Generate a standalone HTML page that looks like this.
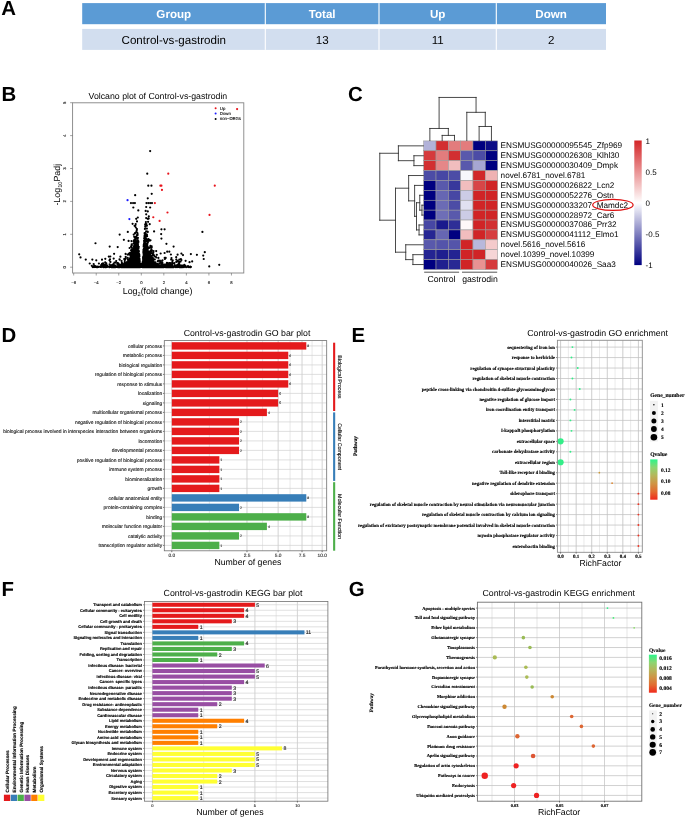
<!DOCTYPE html>
<html lang="en"><head><meta charset="utf-8"><title>Control-vs-gastrodin figure</title>
<style>html,body{margin:0;padding:0;background:#fff;}svg{display:block;}text{white-space:pre;text-rendering:geometricPrecision;}</style></head>
<body><svg width="685" height="819" viewBox="0 0 685 819">
<rect width="685" height="819" fill="#fff"/>
<text x="1.30" y="15.30" font-size="20.4" text-anchor="start" font-weight="bold" fill="#000" font-family="Liberation Sans, sans-serif">A</text>
<text x="1.60" y="101.10" font-size="20.4" text-anchor="start" font-weight="bold" fill="#000" font-family="Liberation Sans, sans-serif">B</text>
<text x="348.00" y="101.30" font-size="20.4" text-anchor="start" font-weight="bold" fill="#000" font-family="Liberation Sans, sans-serif">C</text>
<text x="1.60" y="341.70" font-size="20.4" text-anchor="start" font-weight="bold" fill="#000" font-family="Liberation Sans, sans-serif">D</text>
<text x="351.60" y="341.70" font-size="20.4" text-anchor="start" font-weight="bold" fill="#000" font-family="Liberation Sans, sans-serif">E</text>
<text x="1.40" y="596.00" font-size="20.4" text-anchor="start" font-weight="bold" fill="#000" font-family="Liberation Sans, sans-serif">F</text>
<text x="348.80" y="595.80" font-size="20.4" text-anchor="start" font-weight="bold" fill="#000" font-family="Liberation Sans, sans-serif">G</text>
<rect x="82.20" y="3.10" width="523.80" height="21.10" fill="#5B9BD5"/>
<rect x="82.20" y="28.90" width="523.80" height="21.00" fill="#D2DEEF"/>
<rect x="264.75" y="3.10" width="1.10" height="46.80" fill="#fff"/>
<rect x="378.45" y="3.10" width="1.10" height="46.80" fill="#fff"/>
<rect x="495.75" y="3.10" width="1.10" height="46.80" fill="#fff"/>
<text x="173.75" y="18.20" font-size="11.6" text-anchor="middle" font-weight="bold" fill="#fff" font-family="Liberation Sans, sans-serif">Group</text>
<text x="173.75" y="43.90" font-size="11.6" text-anchor="middle" fill="#000" font-family="Liberation Sans, sans-serif">Control-vs-gastrodin</text>
<text x="322.15" y="18.20" font-size="11.6" text-anchor="middle" font-weight="bold" fill="#fff" font-family="Liberation Sans, sans-serif">Total</text>
<text x="322.15" y="43.90" font-size="11.6" text-anchor="middle" fill="#000" font-family="Liberation Sans, sans-serif">13</text>
<text x="437.65" y="18.20" font-size="11.6" text-anchor="middle" font-weight="bold" fill="#fff" font-family="Liberation Sans, sans-serif">Up</text>
<text x="437.65" y="43.90" font-size="11.6" text-anchor="middle" fill="#000" font-family="Liberation Sans, sans-serif">11</text>
<text x="551.15" y="18.20" font-size="11.6" text-anchor="middle" font-weight="bold" fill="#fff" font-family="Liberation Sans, sans-serif">Down</text>
<text x="551.15" y="43.90" font-size="11.6" text-anchor="middle" fill="#000" font-family="Liberation Sans, sans-serif">2</text>
<text x="157.90" y="98.90" font-size="8.75" text-anchor="middle" fill="#000" font-family="Liberation Sans, sans-serif">Volcano plot of Control-vs-gastrodin</text>
<rect x="72.60" y="102.80" width="171.20" height="170.20" fill="none" stroke="#848484" stroke-width="0.9"/>
<line x1="73.68" y1="273.00" x2="73.68" y2="275.50" stroke="#666" stroke-width="0.6"/>
<text x="73.68" y="283.50" font-size="4.2" text-anchor="middle" stroke="#222" stroke-width="0.13" fill="#222" font-family="Liberation Sans, sans-serif">−6</text>
<line x1="96.22" y1="273.00" x2="96.22" y2="275.50" stroke="#666" stroke-width="0.6"/>
<text x="96.22" y="283.50" font-size="4.2" text-anchor="middle" stroke="#222" stroke-width="0.13" fill="#222" font-family="Liberation Sans, sans-serif">−4</text>
<line x1="118.76" y1="273.00" x2="118.76" y2="275.50" stroke="#666" stroke-width="0.6"/>
<text x="118.76" y="283.50" font-size="4.2" text-anchor="middle" stroke="#222" stroke-width="0.13" fill="#222" font-family="Liberation Sans, sans-serif">−2</text>
<line x1="141.30" y1="273.00" x2="141.30" y2="275.50" stroke="#666" stroke-width="0.6"/>
<text x="141.30" y="283.50" font-size="4.2" text-anchor="middle" stroke="#222" stroke-width="0.13" fill="#222" font-family="Liberation Sans, sans-serif">0</text>
<line x1="163.84" y1="273.00" x2="163.84" y2="275.50" stroke="#666" stroke-width="0.6"/>
<text x="163.84" y="283.50" font-size="4.2" text-anchor="middle" stroke="#222" stroke-width="0.13" fill="#222" font-family="Liberation Sans, sans-serif">2</text>
<line x1="186.38" y1="273.00" x2="186.38" y2="275.50" stroke="#666" stroke-width="0.6"/>
<text x="186.38" y="283.50" font-size="4.2" text-anchor="middle" stroke="#222" stroke-width="0.13" fill="#222" font-family="Liberation Sans, sans-serif">4</text>
<line x1="208.92" y1="273.00" x2="208.92" y2="275.50" stroke="#666" stroke-width="0.6"/>
<text x="208.92" y="283.50" font-size="4.2" text-anchor="middle" stroke="#222" stroke-width="0.13" fill="#222" font-family="Liberation Sans, sans-serif">6</text>
<line x1="231.46" y1="273.00" x2="231.46" y2="275.50" stroke="#666" stroke-width="0.6"/>
<text x="231.46" y="283.50" font-size="4.2" text-anchor="middle" stroke="#222" stroke-width="0.13" fill="#222" font-family="Liberation Sans, sans-serif">8</text>
<line x1="70.10" y1="267.20" x2="72.60" y2="267.20" stroke="#666" stroke-width="0.6"/>
<text x="66.40" y="267.20" font-size="4.2" text-anchor="middle" stroke="#222" stroke-width="0.13" fill="#222" font-family="Liberation Sans, sans-serif" transform="rotate(-90 66.40 267.20)">0</text>
<line x1="70.10" y1="234.30" x2="72.60" y2="234.30" stroke="#666" stroke-width="0.6"/>
<text x="66.40" y="234.30" font-size="4.2" text-anchor="middle" stroke="#222" stroke-width="0.13" fill="#222" font-family="Liberation Sans, sans-serif" transform="rotate(-90 66.40 234.30)">1</text>
<line x1="70.10" y1="201.40" x2="72.60" y2="201.40" stroke="#666" stroke-width="0.6"/>
<text x="66.40" y="201.40" font-size="4.2" text-anchor="middle" stroke="#222" stroke-width="0.13" fill="#222" font-family="Liberation Sans, sans-serif" transform="rotate(-90 66.40 201.40)">2</text>
<line x1="70.10" y1="168.50" x2="72.60" y2="168.50" stroke="#666" stroke-width="0.6"/>
<text x="66.40" y="168.50" font-size="4.2" text-anchor="middle" stroke="#222" stroke-width="0.13" fill="#222" font-family="Liberation Sans, sans-serif" transform="rotate(-90 66.40 168.50)">3</text>
<line x1="70.10" y1="135.60" x2="72.60" y2="135.60" stroke="#666" stroke-width="0.6"/>
<text x="66.40" y="135.60" font-size="4.2" text-anchor="middle" stroke="#222" stroke-width="0.13" fill="#222" font-family="Liberation Sans, sans-serif" transform="rotate(-90 66.40 135.60)">4</text>
<line x1="70.10" y1="102.70" x2="72.60" y2="102.70" stroke="#666" stroke-width="0.6"/>
<text x="66.40" y="102.70" font-size="4.2" text-anchor="middle" stroke="#222" stroke-width="0.13" fill="#222" font-family="Liberation Sans, sans-serif" transform="rotate(-90 66.40 102.70)">5</text>
<text x="157.6" y="293.8" font-size="8.9" text-anchor="middle" font-family="Liberation Sans, sans-serif">Log<tspan font-size="5.6" dy="1.8">2</tspan><tspan dy="-1.8">(fold change)</tspan></text>
<text x="59.8" y="184.7" font-size="8.9" text-anchor="middle" font-family="Liberation Sans, sans-serif" transform="rotate(-90 59.8 184.7)">-Log<tspan font-size="5.6" dy="1.8">10</tspan><tspan dy="-1.8">Padj</tspan></text>
<path d="M138.3 266.5h0M147.4 267.2h0M130.3 267.2h0M138.8 266.7h0M153.6 267.2h0M144.2 267.1h0M121.6 267.1h0M151.4 267.0h0M121.3 266.6h0M120.7 266.9h0M144.9 265.9h0M145.0 267.0h0M146.0 266.1h0M147.9 266.5h0M155.5 266.9h0M137.2 267.2h0M140.0 267.0h0M136.0 267.0h0M130.0 266.6h0M131.7 266.2h0M144.2 266.4h0M156.8 265.8h0M131.6 267.1h0M124.0 267.1h0M151.1 266.8h0M158.3 266.2h0M145.6 266.6h0M148.6 266.4h0M134.1 266.6h0M129.8 266.0h0M135.0 265.3h0M124.1 267.2h0M144.1 266.4h0M118.8 266.1h0M111.5 267.0h0M128.0 267.2h0M152.9 266.8h0M144.2 267.2h0M146.4 266.2h0M147.4 266.9h0M147.8 265.9h0M152.6 266.7h0M147.6 265.8h0M151.3 267.0h0M119.9 266.8h0M125.8 265.1h0M160.4 267.1h0M145.1 267.0h0M149.0 266.8h0M133.5 267.2h0M136.4 266.8h0M130.9 265.2h0M152.5 266.4h0M125.0 266.5h0M139.7 267.2h0M157.9 265.8h0M129.1 266.1h0M132.0 267.1h0M148.8 266.5h0M145.4 267.0h0M143.0 267.1h0M139.2 267.2h0M144.6 267.1h0M150.3 267.2h0M148.0 265.8h0M136.2 267.0h0M136.9 266.9h0M137.3 266.0h0M145.9 263.9h0M128.0 267.1h0M144.2 267.1h0M136.2 266.0h0M149.1 267.1h0M170.1 266.7h0M145.5 267.1h0M138.6 266.7h0M153.2 267.0h0M127.5 266.9h0M151.4 266.7h0M158.9 266.2h0M137.3 266.1h0M148.7 264.4h0M154.2 266.1h0M124.2 266.3h0M143.4 266.9h0M155.4 267.2h0M150.7 267.0h0M143.0 266.4h0M153.7 265.4h0M137.8 264.3h0M152.1 267.0h0M138.2 267.0h0M143.9 266.6h0M148.9 265.7h0M148.6 266.5h0M129.9 266.1h0M156.3 265.6h0M150.1 266.2h0M127.8 266.2h0M130.8 264.9h0M159.8 266.9h0M118.0 266.4h0M157.9 267.1h0M146.0 265.7h0M146.2 266.1h0M154.7 264.6h0M158.9 266.5h0M132.5 267.1h0M153.4 267.2h0M158.2 266.7h0M138.2 265.4h0M119.4 266.0h0M151.0 267.0h0M151.2 266.6h0M153.6 265.6h0M133.4 266.6h0M151.7 265.7h0M118.1 266.7h0M153.9 266.7h0M139.0 266.8h0M162.5 267.1h0M139.0 266.9h0M126.4 266.7h0M121.8 267.1h0M134.2 266.7h0M150.8 266.7h0M122.8 265.6h0M133.7 266.8h0M130.6 266.7h0M132.2 266.4h0M127.3 266.8h0M145.6 265.3h0M133.7 265.3h0M118.3 267.0h0M114.9 266.0h0M130.9 267.1h0M150.5 267.2h0M150.1 267.0h0M157.1 266.2h0M149.1 265.7h0M151.9 266.5h0M156.8 267.1h0M164.3 267.0h0M120.5 265.2h0M130.3 264.2h0M149.5 266.0h0M147.9 266.7h0M152.0 266.9h0M144.8 266.4h0M151.1 267.2h0M129.3 267.2h0M137.1 266.9h0M131.2 267.2h0M131.3 264.4h0M148.8 267.1h0M110.6 267.0h0M161.2 267.0h0M146.4 267.1h0M118.3 266.1h0M153.5 267.0h0M157.0 266.6h0M162.7 266.4h0M144.7 266.4h0M143.5 266.8h0M166.4 266.5h0M153.6 266.1h0M161.5 267.2h0M153.0 265.9h0M131.0 266.7h0M144.4 265.5h0M147.5 267.0h0M146.7 267.2h0M145.8 267.1h0M137.5 266.3h0M150.6 267.0h0M133.9 266.9h0M143.4 266.7h0M146.3 265.4h0M153.8 267.1h0M146.6 266.8h0M129.9 266.0h0M130.3 266.4h0M150.1 264.5h0M129.0 266.4h0M160.0 266.5h0M132.3 267.2h0M147.5 267.1h0M158.9 267.0h0M149.7 267.1h0M160.9 265.9h0M152.8 266.5h0M139.5 267.0h0M149.9 266.8h0M148.4 267.0h0M152.0 265.1h0M156.0 267.0h0M138.8 265.0h0M137.2 267.2h0M151.6 266.9h0M127.5 267.1h0M143.5 266.7h0M150.6 267.1h0M143.7 267.0h0M128.8 266.3h0M133.9 266.5h0M136.1 266.9h0M117.5 266.9h0M148.0 266.4h0M162.9 265.7h0M147.4 266.6h0M139.1 267.1h0M119.8 266.7h0M118.8 266.1h0M119.7 266.4h0M128.7 266.4h0M144.3 266.9h0M159.1 266.7h0M155.1 266.5h0M128.8 266.8h0M128.6 267.2h0M147.1 266.7h0M122.5 266.7h0M138.9 266.3h0M137.6 267.0h0M149.6 266.3h0M145.5 267.0h0M139.2 266.8h0M109.1 266.9h0M123.5 266.2h0M143.7 266.6h0M138.3 267.1h0M137.6 267.0h0M131.2 267.2h0M150.0 266.5h0M144.8 266.4h0M136.9 266.7h0M132.5 266.8h0M135.5 265.7h0M142.5 267.1h0M168.8 267.2h0M137.5 266.8h0M154.5 266.8h0M113.2 267.0h0M148.4 267.0h0M168.9 266.6h0M150.4 265.2h0M152.5 267.1h0M147.3 265.8h0M128.5 266.4h0M144.2 266.8h0M166.4 267.2h0M155.1 266.8h0M148.2 267.0h0M149.7 266.0h0M161.0 266.0h0M158.0 265.7h0M133.0 267.0h0M133.1 262.8h0M149.8 266.6h0M133.3 267.0h0M150.9 267.2h0M159.3 267.0h0M154.7 265.4h0M150.6 267.1h0M120.6 265.8h0M162.4 266.1h0M123.5 265.3h0M122.1 266.7h0M137.6 266.8h0M124.3 267.2h0M146.8 266.8h0M138.6 266.9h0M135.6 264.7h0M159.8 267.0h0M135.7 266.7h0M133.0 266.9h0M144.8 267.0h0M147.4 265.6h0M133.0 265.6h0M135.1 267.1h0M143.3 267.1h0M138.5 267.0h0M145.6 267.0h0M118.9 266.3h0M130.8 266.8h0M128.9 266.9h0M148.7 266.9h0M150.1 264.9h0M144.9 267.1h0M124.6 265.9h0M140.1 266.9h0M150.2 266.8h0M163.3 265.8h0M134.7 267.2h0M159.5 265.7h0M145.0 266.8h0M151.9 264.8h0M120.6 267.0h0M146.6 266.7h0M145.6 266.4h0M159.0 266.5h0M134.5 266.2h0M126.8 267.2h0M145.3 266.2h0M144.2 266.5h0M167.7 267.0h0M147.6 266.5h0M147.8 266.4h0M144.7 266.7h0M144.2 266.6h0M134.9 266.6h0M146.7 267.2h0M137.1 265.1h0M153.8 266.5h0M151.3 267.0h0M132.3 267.0h0M159.2 267.0h0M136.8 267.2h0M123.6 266.8h0M127.9 267.0h0M117.9 267.2h0M134.8 266.4h0M151.8 267.1h0M147.0 266.7h0M122.7 267.0h0M151.3 266.1h0M139.4 267.0h0M144.9 267.0h0M161.0 265.2h0M133.7 267.0h0M126.7 267.1h0M116.4 266.9h0M148.7 267.1h0M172.4 267.2h0M152.3 265.7h0M145.7 265.8h0M136.9 265.4h0M100.5 266.9h0M152.2 266.3h0M166.8 267.2h0M135.4 266.9h0M131.4 266.9h0M147.1 265.0h0M139.6 267.0h0M127.7 266.1h0M158.5 266.8h0M154.1 266.9h0M145.4 265.5h0M145.2 265.7h0M151.8 267.2h0M123.0 266.2h0M152.8 267.2h0M145.5 265.5h0M116.0 267.0h0M157.1 267.0h0M137.0 266.4h0M137.4 267.2h0M150.0 266.3h0M155.8 265.3h0M132.9 267.2h0M142.7 265.1h0M154.7 265.2h0M134.5 266.8h0M147.2 266.8h0M148.1 266.1h0M138.0 266.3h0M150.3 266.6h0M123.0 266.9h0M136.6 266.2h0M151.5 267.1h0M147.7 267.0h0M160.0 267.2h0M156.0 266.9h0M144.5 264.6h0M167.4 267.0h0M117.8 267.1h0M152.7 266.4h0M149.2 266.8h0M142.5 266.6h0M153.5 266.5h0M118.4 267.1h0M146.6 266.6h0M133.0 266.9h0M133.4 267.0h0M155.3 266.6h0M161.5 266.9h0M111.9 266.7h0M163.8 267.0h0M147.5 264.1h0M125.2 267.1h0M119.7 266.0h0M144.8 265.6h0M150.9 267.1h0M143.8 267.1h0M156.7 265.4h0M138.7 266.9h0M149.9 267.0h0M131.7 266.2h0M146.6 266.6h0M139.4 266.6h0M143.6 267.1h0M152.4 267.0h0M157.3 267.1h0M151.8 266.5h0M138.3 266.2h0M148.7 266.7h0M146.3 266.9h0M143.4 266.7h0M138.0 267.1h0M137.3 266.4h0M133.2 267.0h0M146.5 265.2h0M135.5 266.9h0M155.4 266.8h0M167.6 266.9h0M111.2 267.1h0M133.4 265.7h0M121.8 266.9h0M151.4 265.8h0M134.5 267.2h0M143.0 266.7h0M124.8 267.1h0M121.2 266.6h0M131.6 267.1h0M151.5 267.0h0M114.6 267.1h0M137.7 266.8h0M151.7 267.1h0M112.2 267.1h0M171.5 266.8h0M130.0 267.2h0M151.8 265.7h0M136.1 266.6h0M144.5 266.2h0M135.1 267.0h0M122.4 266.0h0M154.2 267.1h0M143.7 266.7h0M153.0 266.9h0M147.7 266.4h0M147.5 265.7h0M156.0 266.3h0M145.2 267.2h0M144.4 266.6h0M136.3 266.7h0M134.2 266.8h0M134.1 266.6h0M125.8 266.8h0M149.1 266.8h0M157.6 266.8h0M143.7 267.0h0M143.1 266.8h0M120.8 267.1h0M135.7 267.1h0M152.0 266.7h0M148.3 267.2h0M138.1 266.3h0M137.6 266.2h0M137.4 266.7h0M147.4 265.9h0M139.4 263.5h0M138.9 267.1h0M119.7 264.6h0M111.7 265.6h0M142.8 267.1h0M147.8 267.2h0M114.8 266.9h0M134.3 267.0h0M143.9 266.7h0M135.3 265.5h0M143.7 266.7h0M150.2 266.9h0M148.6 267.1h0M143.0 265.4h0M130.5 267.1h0M118.6 266.2h0M152.2 266.5h0M150.9 266.9h0M151.8 266.6h0M130.5 265.8h0M170.8 266.5h0M164.1 266.9h0M144.0 264.1h0M132.4 266.6h0M128.4 266.8h0M156.8 267.1h0M137.6 267.0h0M119.5 266.6h0M115.2 266.5h0M131.9 266.7h0M132.9 265.7h0M147.0 266.5h0M147.6 267.2h0M152.4 267.1h0M143.8 266.6h0M156.8 267.0h0M131.7 267.1h0M131.9 265.4h0M148.0 266.5h0M155.6 266.9h0M126.4 267.0h0M158.3 266.7h0M142.5 266.9h0M133.5 265.4h0M131.1 266.3h0M166.9 266.7h0M134.1 267.2h0M146.2 266.2h0M156.2 265.3h0M142.5 267.1h0M146.4 266.7h0M156.7 266.5h0M144.1 267.0h0M134.5 267.0h0M165.0 266.2h0M148.7 266.4h0M164.1 266.3h0M128.3 267.1h0M144.6 266.3h0M133.6 266.4h0M119.8 267.0h0M129.4 266.2h0M137.1 266.7h0M139.7 265.0h0M158.2 267.0h0M142.8 267.0h0M139.9 267.0h0M112.8 266.9h0M149.0 267.0h0M134.1 265.6h0M128.9 266.5h0M128.0 264.7h0M119.1 266.4h0M145.6 265.9h0M123.8 266.6h0M148.6 267.0h0M145.2 267.1h0M157.4 265.6h0M143.0 267.1h0M143.5 265.5h0M137.6 267.2h0M146.7 267.2h0M135.4 266.4h0M125.6 266.3h0M155.8 266.9h0M147.6 266.1h0M151.9 267.2h0M118.7 265.9h0M165.7 267.1h0M126.7 267.0h0M143.7 266.0h0M143.3 266.1h0M126.6 266.5h0M124.8 267.0h0M145.6 266.3h0M144.5 267.0h0M136.1 267.2h0M152.6 267.0h0M137.5 266.9h0M159.7 266.9h0M155.0 265.9h0M138.2 266.6h0M153.3 266.8h0M143.7 266.2h0M130.7 266.7h0M156.5 267.0h0M144.6 266.1h0M137.4 267.1h0M149.3 266.3h0M155.0 266.8h0M146.8 266.9h0M154.0 266.0h0M139.4 267.0h0M169.6 267.0h0M137.0 267.1h0M128.1 266.5h0M159.5 266.4h0M151.4 266.2h0M133.6 266.9h0M133.3 266.9h0M145.2 265.8h0M138.1 267.2h0M143.8 265.7h0M150.2 266.7h0M123.5 267.0h0M158.2 266.8h0M121.9 266.3h0M137.4 266.5h0M135.2 267.1h0M149.9 266.0h0M131.1 267.1h0M124.7 266.8h0M143.6 267.1h0M125.9 266.8h0M147.8 267.1h0M135.5 267.0h0M134.7 267.1h0M119.5 267.1h0M151.8 267.1h0M137.7 264.8h0M148.1 266.3h0M165.6 267.1h0M159.4 266.9h0M162.3 266.3h0M139.2 266.8h0M146.9 267.1h0M157.2 267.0h0M138.9 266.9h0M143.3 266.2h0M136.4 266.5h0M128.2 266.8h0M151.4 266.9h0M153.8 266.3h0M151.8 266.6h0M134.4 266.3h0M133.8 266.4h0M145.4 265.8h0M144.1 265.9h0M123.1 266.5h0M133.1 267.0h0M131.2 266.5h0M151.4 266.2h0M148.4 266.4h0M135.1 266.8h0M134.8 266.8h0M132.5 266.5h0M132.9 265.4h0M148.3 266.2h0M157.0 266.9h0M109.3 267.2h0M143.3 266.7h0M152.3 265.3h0M158.8 266.7h0M153.8 266.7h0M150.5 266.4h0M124.5 266.0h0M140.0 266.7h0M117.0 267.0h0M156.7 266.4h0M125.6 267.1h0M153.9 264.5h0M138.8 267.0h0M144.5 266.9h0M153.6 266.8h0M135.7 267.0h0M148.7 266.3h0M154.8 267.0h0M136.0 266.1h0M134.9 267.1h0M146.4 266.2h0M147.4 266.8h0M125.7 266.7h0M145.9 266.9h0M171.4 266.5h0M150.4 266.8h0M121.5 267.0h0M135.5 266.0h0M139.5 266.9h0M146.8 266.9h0M133.8 267.0h0M134.5 267.2h0M144.7 266.4h0M139.6 267.0h0M150.0 266.8h0M126.1 266.5h0M148.6 266.9h0M162.2 267.2h0M131.2 266.0h0M158.5 267.1h0M129.7 266.0h0M139.9 267.2h0M139.8 265.2h0M136.3 267.1h0M133.8 267.1h0M143.4 266.9h0M161.7 267.1h0M158.6 267.1h0M129.4 265.7h0M125.3 266.5h0M128.3 265.7h0M146.7 267.1h0M119.3 266.4h0M122.2 266.8h0M137.6 265.8h0M132.6 267.0h0M138.2 267.1h0M137.2 266.8h0M127.4 266.7h0M164.0 266.8h0M129.8 266.9h0M121.8 266.8h0M145.8 266.5h0M157.3 266.4h0M144.2 265.4h0M125.1 266.7h0M170.6 266.8h0M143.8 266.4h0M139.4 266.6h0M128.9 266.9h0M161.3 266.8h0M121.3 267.0h0M138.1 266.8h0M128.0 266.0h0M148.3 267.0h0M146.9 266.7h0M130.7 267.0h0M109.2 266.5h0M140.0 266.2h0M136.3 267.0h0M150.3 266.6h0M127.6 267.2h0M125.8 266.4h0M152.5 267.2h0M131.5 267.0h0M149.0 265.5h0M129.9 265.6h0M123.8 266.6h0M129.0 266.4h0M130.2 266.6h0M137.9 266.5h0M133.9 266.8h0M135.8 267.2h0M145.3 266.5h0M115.4 266.9h0M150.5 266.7h0M122.6 267.0h0M137.3 266.9h0M153.0 266.8h0M124.0 267.2h0M119.9 266.6h0M147.1 266.1h0M142.8 266.6h0M152.5 267.2h0M135.0 266.9h0M117.9 264.6h0M126.1 266.8h0M136.6 266.5h0M144.2 267.0h0M142.5 267.2h0M143.0 266.4h0M163.5 267.1h0M162.6 265.9h0M142.8 266.4h0M142.9 267.0h0M133.7 266.2h0M136.0 266.3h0M118.6 267.1h0M128.5 266.8h0M127.9 265.4h0M171.8 267.2h0M158.4 266.1h0M142.9 267.1h0M134.1 267.1h0M159.0 265.9h0M137.2 266.9h0M124.8 267.1h0M148.0 266.1h0M130.2 266.5h0M154.2 266.8h0M125.6 265.3h0M155.0 266.2h0M132.3 267.2h0M137.3 264.8h0M134.9 266.9h0M120.1 266.6h0M163.4 266.6h0M138.1 267.0h0M119.0 266.9h0M152.0 266.4h0M121.1 266.1h0M126.3 267.0h0M150.5 266.8h0M151.3 267.2h0M118.7 266.0h0M150.3 266.6h0M119.3 267.0h0M154.0 266.4h0M124.0 265.6h0M138.4 266.7h0M145.4 266.1h0M147.3 265.4h0M160.1 267.0h0M127.4 266.8h0M130.2 267.0h0M161.0 266.8h0M159.6 266.2h0M152.5 267.0h0M119.2 265.8h0M129.2 266.7h0M125.7 267.1h0M143.6 267.1h0M149.1 266.9h0M158.0 266.7h0M129.6 267.1h0M149.5 267.2h0M152.8 267.1h0M142.9 266.6h0M134.6 266.9h0M138.9 267.2h0M150.4 266.6h0M131.1 267.0h0M143.6 265.3h0M129.0 266.2h0M154.1 267.0h0M113.7 267.2h0M143.6 267.1h0M148.4 267.2h0M118.9 266.8h0M132.9 265.3h0M144.9 266.6h0M139.0 266.9h0M163.1 267.0h0M161.8 266.7h0M122.5 266.5h0M118.4 266.9h0M134.7 265.0h0M143.5 264.0h0M144.6 266.9h0M162.3 266.0h0M126.6 267.2h0M145.5 266.5h0M123.2 264.4h0M147.5 266.3h0M143.6 265.4h0M136.9 266.6h0M132.4 266.3h0M149.6 267.0h0M147.7 267.1h0M134.2 267.0h0M139.6 267.1h0M167.7 267.0h0M147.4 265.4h0M157.9 267.1h0M122.9 266.8h0M163.6 266.0h0M156.9 266.5h0M131.0 266.1h0M144.5 266.8h0M136.7 267.0h0M136.6 267.2h0M137.9 267.1h0M126.7 265.9h0M140.0 267.1h0M153.4 267.0h0M147.0 267.1h0M132.3 266.8h0M130.7 267.1h0M164.6 264.7h0M164.8 266.5h0M150.1 267.0h0M131.7 267.0h0M142.7 267.1h0M117.4 263.1h0M168.7 265.5h0M149.3 265.7h0M146.9 267.2h0M139.8 264.7h0M131.5 267.2h0M145.1 267.1h0M131.2 267.2h0M148.4 267.1h0M128.7 266.8h0M148.4 266.6h0M136.9 267.1h0M149.9 266.4h0M159.7 267.1h0M145.7 266.6h0M143.7 266.7h0M140.1 266.6h0M149.2 266.4h0M147.2 267.1h0M126.8 267.2h0M140.0 266.4h0M129.3 267.2h0M145.3 266.0h0M131.4 265.9h0M139.2 265.6h0M147.8 267.1h0M134.6 266.0h0M136.6 266.9h0M146.5 266.6h0M155.6 266.8h0M154.9 266.1h0M154.2 265.9h0M133.3 266.9h0M158.1 266.3h0M163.6 265.2h0M150.3 266.8h0M126.8 266.7h0M140.1 267.2h0M149.5 267.1h0M139.6 267.1h0M163.1 267.1h0M138.8 267.2h0M133.9 266.6h0M128.5 266.4h0M134.6 267.1h0M154.1 267.2h0M127.6 267.1h0M127.4 267.0h0M136.0 266.6h0M144.9 265.9h0M150.6 266.3h0M153.6 267.1h0M154.1 266.9h0M116.5 266.8h0M149.0 266.9h0M129.1 265.3h0M143.1 267.0h0M130.7 266.9h0M110.6 266.1h0M154.4 265.6h0M150.4 267.2h0M120.2 266.7h0M168.0 267.0h0M134.1 266.8h0M133.7 266.7h0M133.0 267.2h0M128.5 267.2h0M147.0 267.1h0M161.4 265.4h0M137.4 266.5h0M150.2 265.8h0M118.4 267.2h0M135.4 266.5h0M134.1 267.0h0M115.4 266.6h0M134.2 267.0h0M128.8 265.2h0M139.7 267.0h0M135.5 267.1h0M157.4 266.6h0M155.0 267.0h0M137.4 266.8h0M134.7 267.1h0M139.9 267.1h0M138.0 267.0h0M152.9 267.0h0M154.0 266.0h0M149.1 266.6h0M125.8 267.1h0M134.0 266.4h0M126.8 266.6h0M144.9 266.8h0M138.0 267.0h0M149.5 266.7h0M129.6 267.2h0M151.8 266.9h0M146.9 266.7h0M134.6 266.8h0M133.7 267.0h0M175.5 266.2h0M143.7 265.9h0M145.0 266.8h0M152.1 266.8h0M145.8 266.3h0M147.8 265.1h0M146.7 266.3h0M147.4 266.9h0M150.2 266.5h0M124.1 266.1h0M125.9 266.7h0M139.9 266.3h0M121.8 266.8h0M145.3 265.6h0M123.2 267.1h0M110.9 266.6h0M146.3 266.6h0M117.8 266.9h0M128.8 266.4h0M145.2 267.0h0M129.7 266.9h0M150.9 266.9h0M146.6 266.7h0M118.9 266.8h0M145.3 267.1h0M150.5 266.6h0M136.9 265.5h0M138.8 266.9h0M153.8 265.1h0M122.5 267.0h0M118.0 267.2h0M152.9 267.2h0M128.6 265.5h0M135.8 266.2h0M100.2 266.7h0M131.2 266.7h0M136.6 266.9h0M130.5 266.6h0M124.2 266.5h0M164.5 266.7h0M150.6 266.9h0M148.0 266.7h0M119.5 265.0h0M130.4 266.8h0M125.9 263.5h0M147.4 266.9h0M119.9 267.1h0M137.2 266.9h0M163.2 266.7h0M138.3 267.1h0M155.6 266.1h0M130.2 264.2h0M150.7 267.1h0M133.3 267.0h0M127.3 267.1h0M130.3 266.9h0M129.6 263.9h0M139.0 266.9h0M138.7 266.2h0M135.0 267.2h0M158.3 267.0h0M149.9 266.5h0M128.1 267.1h0M126.3 267.0h0M101.6 266.6h0M133.3 266.9h0M146.3 266.3h0M146.1 267.1h0M147.2 266.7h0M145.6 266.1h0M125.0 267.2h0M127.3 267.2h0M142.6 266.4h0M130.9 266.9h0M145.8 267.1h0M149.4 265.7h0M131.8 266.8h0M135.9 266.9h0M164.7 266.6h0M149.7 265.1h0M126.0 267.0h0M147.4 267.2h0M162.4 267.0h0M131.5 265.7h0M145.4 266.6h0M132.1 265.1h0M112.4 267.0h0M139.7 267.0h0M133.1 265.8h0M120.4 267.0h0M143.4 267.1h0M136.5 264.9h0M147.2 267.0h0M135.9 266.7h0M139.1 266.9h0M137.7 267.1h0M143.8 266.1h0M136.0 267.1h0M148.4 267.0h0M144.4 266.9h0M151.6 267.1h0M156.7 267.0h0M144.5 266.8h0M136.0 266.0h0M143.7 266.9h0M134.7 266.4h0M119.9 267.0h0M162.1 265.2h0M132.8 266.8h0M138.8 265.7h0M132.4 266.6h0M135.3 266.6h0M147.9 267.0h0M145.5 266.7h0M136.9 266.7h0M138.7 266.9h0M161.5 266.5h0M132.0 266.9h0M137.1 267.1h0M151.5 266.9h0M162.0 266.5h0M153.1 266.9h0M150.9 266.7h0M140.0 267.0h0M145.5 267.0h0M154.5 267.0h0M154.7 266.9h0M158.5 265.8h0M130.2 265.9h0M147.7 267.2h0M148.3 266.5h0M135.6 266.8h0M131.9 266.5h0M138.5 266.0h0M132.8 266.9h0M136.1 267.1h0M135.9 265.6h0M139.4 267.2h0M122.7 267.2h0M145.4 267.0h0M148.0 266.9h0M151.2 266.5h0M143.8 267.1h0M149.5 266.4h0M128.3 267.0h0M124.8 266.9h0M148.4 267.2h0M151.6 267.0h0M123.6 267.2h0M151.1 267.2h0M128.5 267.0h0M157.3 267.0h0M154.8 265.6h0M136.3 266.9h0M119.1 267.1h0M153.0 265.4h0M137.2 266.4h0M139.7 266.5h0M119.1 266.8h0M158.6 266.8h0M147.4 266.7h0M146.9 266.3h0M138.6 267.2h0M135.0 267.0h0M120.8 266.7h0M157.8 266.7h0M138.1 267.0h0M151.7 266.9h0M145.4 267.1h0M138.9 266.4h0M147.3 266.5h0M150.1 266.8h0M151.4 267.0h0M137.0 265.8h0M150.9 266.9h0M153.2 266.1h0M122.2 267.1h0M135.3 266.5h0M130.6 266.2h0M133.7 266.0h0M148.7 266.9h0M147.7 267.0h0M150.2 267.1h0M144.9 266.4h0M135.8 266.9h0M143.2 266.8h0M136.6 267.2h0M146.7 267.2h0M161.0 267.1h0M156.4 267.1h0M139.4 266.8h0M134.3 266.7h0M144.4 267.2h0M156.2 266.5h0M133.1 265.4h0M136.1 267.0h0M133.9 267.1h0M161.4 266.0h0M144.8 267.0h0M147.9 266.0h0M156.8 265.5h0M151.5 266.0h0M159.4 266.3h0M137.8 266.1h0M148.0 266.9h0M131.1 266.9h0M152.3 266.0h0M144.7 266.5h0M149.2 265.6h0M124.5 265.3h0M127.4 267.1h0M137.1 266.4h0M138.9 267.1h0M112.0 267.1h0M152.2 267.2h0M134.1 266.4h0M144.2 267.2h0M153.9 266.2h0M121.7 266.8h0M137.7 266.7h0M158.3 266.8h0M134.6 266.5h0M152.1 266.0h0M147.1 267.0h0M137.3 266.8h0M131.2 267.1h0M137.1 267.1h0M135.4 264.9h0M153.1 265.6h0M162.5 265.1h0M117.3 266.6h0M142.9 266.5h0M137.4 266.6h0M136.8 265.2h0M156.0 266.8h0M135.3 266.9h0M133.3 265.8h0M148.8 266.5h0M142.6 266.8h0M156.3 266.9h0M150.2 266.6h0M128.7 266.7h0M148.6 266.9h0M146.9 265.7h0M146.2 266.7h0M159.2 267.0h0M156.6 267.1h0M132.5 266.8h0M139.6 266.7h0M143.6 267.1h0M156.6 266.7h0M137.2 266.9h0M138.7 267.1h0M119.4 266.7h0M150.1 266.4h0M135.5 266.4h0M159.2 266.9h0M154.6 267.1h0M188.0 266.2h0M105.4 267.2h0M115.5 267.2h0M151.3 267.0h0M162.7 265.9h0M154.0 266.5h0M183.7 267.1h0M166.5 266.4h0M160.0 267.1h0M129.1 265.0h0M164.1 266.8h0M101.7 266.1h0M103.0 266.3h0M117.2 266.9h0M175.8 267.1h0M93.8 266.5h0M110.3 267.0h0M160.6 267.1h0M179.5 266.4h0M172.8 267.2h0M126.1 266.9h0M179.3 267.2h0M110.0 266.3h0M131.1 267.1h0M176.5 266.0h0M153.0 267.0h0M113.4 266.5h0M96.1 267.0h0M138.6 266.9h0M127.2 266.9h0M125.2 267.0h0M190.7 267.1h0M159.0 267.0h0M141.9 266.8h0M144.7 263.1h0M95.1 266.2h0M179.2 266.4h0M155.4 267.0h0M171.5 265.0h0M160.1 266.4h0M165.9 266.6h0M126.9 266.9h0M97.8 267.0h0M190.9 266.9h0M116.1 267.0h0M105.3 266.4h0M137.2 266.7h0M122.0 267.2h0M122.0 266.5h0M147.0 266.9h0M184.1 267.1h0M109.6 264.3h0M127.5 266.8h0M178.8 266.9h0M181.9 267.0h0M94.0 267.1h0M162.4 266.9h0M111.8 265.9h0M156.7 266.6h0M188.3 267.1h0M172.9 266.9h0M105.4 266.8h0M179.5 265.4h0M113.0 266.4h0M156.8 266.5h0M125.6 267.0h0M96.3 266.9h0M141.3 267.0h0M138.2 266.2h0M148.3 267.2h0M153.3 266.9h0M101.1 267.1h0M168.7 266.5h0M134.2 266.6h0M147.4 266.6h0M124.9 267.0h0M163.1 266.1h0M122.7 264.4h0M137.2 266.8h0M186.1 267.2h0M139.4 266.2h0M128.1 267.0h0M167.6 267.2h0M105.2 266.9h0M147.4 265.9h0M128.4 267.1h0M165.7 267.1h0M94.6 267.0h0M190.2 266.6h0M126.2 266.7h0M124.2 267.1h0M165.3 266.8h0M132.0 267.2h0M148.3 265.7h0M186.5 267.0h0M117.0 266.9h0M114.9 266.5h0M156.2 264.4h0M113.4 267.1h0M178.3 267.0h0M167.1 266.9h0M125.0 265.8h0M107.9 266.6h0M137.2 265.8h0M112.8 266.8h0M169.9 267.0h0M178.4 266.9h0M94.2 265.6h0M92.7 267.1h0M165.5 267.1h0M160.2 267.0h0M183.8 265.7h0M190.0 267.1h0M171.2 267.2h0M142.3 266.9h0M102.2 265.3h0M123.5 267.1h0M140.6 266.9h0M109.7 267.1h0M165.8 267.1h0M127.2 265.6h0M126.8 265.5h0M180.3 267.0h0M109.5 267.2h0M96.0 266.9h0M147.5 267.2h0M160.7 266.7h0M146.8 264.3h0M179.4 266.8h0M123.6 265.1h0M130.5 266.9h0M106.1 267.2h0M152.7 267.0h0M153.0 267.0h0M111.6 266.4h0M170.3 267.2h0M161.3 266.6h0M146.8 265.3h0M91.8 265.8h0M142.9 263.7h0M115.2 266.3h0M129.7 266.8h0M144.5 266.4h0M124.0 266.7h0M114.1 267.0h0M182.9 266.4h0M144.1 267.0h0M106.0 266.6h0M144.3 266.1h0M115.6 266.4h0M137.9 266.0h0M181.4 267.2h0M130.0 265.9h0M104.1 267.1h0M102.0 266.3h0M144.0 267.1h0M131.4 266.2h0M136.8 266.2h0M167.8 266.7h0M128.5 267.0h0M128.9 266.9h0M93.5 266.8h0M97.5 266.6h0M119.3 267.0h0M175.4 266.8h0M177.9 266.9h0M171.2 266.9h0M96.1 266.9h0M163.2 266.9h0M156.7 266.9h0M130.4 265.5h0M110.9 266.2h0M129.1 266.9h0M98.8 266.8h0M144.5 265.8h0M167.6 266.8h0M138.1 266.1h0M133.3 265.8h0M135.8 266.8h0M174.4 266.3h0M132.0 266.7h0M147.3 266.1h0M103.6 267.2h0M173.7 267.2h0M167.3 267.2h0M160.0 266.7h0M97.2 266.8h0M150.3 265.7h0M179.2 267.0h0M143.7 265.4h0M119.3 267.0h0M117.3 266.6h0M143.0 267.2h0M122.3 265.9h0M177.6 267.1h0M96.9 266.9h0M138.3 266.7h0M128.4 267.0h0M183.9 267.2h0M123.2 266.9h0M148.4 267.0h0M171.6 266.5h0M172.2 266.8h0M185.5 265.9h0M97.5 266.6h0M96.6 267.1h0M151.5 266.0h0M148.0 266.7h0M159.3 267.0h0M112.9 267.1h0M183.8 267.1h0M101.3 264.9h0M133.3 267.0h0M182.6 267.1h0M97.4 267.2h0M175.6 267.1h0M150.1 266.8h0M107.2 266.9h0M176.1 266.5h0M190.0 267.2h0M129.8 267.0h0M146.4 266.9h0M164.8 266.5h0M103.2 267.1h0M184.3 264.8h0M144.5 267.0h0M167.0 265.5h0M101.0 266.0h0M151.7 267.1h0M105.7 266.0h0M176.3 261.9h0M177.7 265.1h0M177.1 265.9h0M177.8 266.4h0M177.1 265.1h0M174.9 265.2h0M166.9 262.9h0M165.8 265.0h0M165.4 265.8h0M163.7 266.5h0M164.7 266.6h0M167.5 265.1h0M103.0 266.3h0M102.3 266.3h0M102.0 263.8h0M103.8 264.7h0M104.5 266.1h0M104.9 266.0h0M140.9 265.0h0M141.0 266.1h0M138.8 265.5h0M141.6 264.3h0M141.4 263.8h0M139.2 265.6h0M112.4 264.9h0M113.8 264.7h0M114.2 267.0h0M113.3 265.7h0M114.6 266.2h0M113.6 266.8h0M161.0 262.8h0M161.3 264.5h0M162.1 265.2h0M159.6 265.7h0M161.2 266.0h0M159.9 266.1h0M152.1 266.3h0M152.6 265.1h0M148.5 266.1h0M153.5 265.0h0M150.8 266.0h0M150.3 263.0h0M138.9 265.7h0M140.0 266.2h0M138.2 265.2h0M138.8 262.9h0M138.4 266.4h0M138.3 264.8h0M113.4 264.1h0M117.8 266.4h0M113.6 267.0h0M110.8 265.5h0M115.1 267.1h0M112.6 266.4h0M155.9 266.5h0M156.4 264.1h0M154.1 264.8h0M156.5 266.1h0M154.5 266.4h0M156.1 265.4h0M181.6 265.7h0M182.2 266.8h0M179.3 264.3h0M182.2 265.6h0M180.6 261.6h0M178.5 266.3h0M107.5 266.1h0M105.2 262.4h0M105.3 264.5h0M104.2 265.2h0M102.2 265.4h0M104.4 266.5h0M132.5 266.0h0M130.6 265.3h0M132.6 267.0h0M133.6 264.3h0M132.6 266.8h0M129.8 267.1h0M172.4 265.5h0M171.5 265.5h0M171.4 267.1h0M169.6 266.7h0M170.3 264.6h0M169.2 263.0h0M139.0 258.6h0M137.3 264.4h0M132.7 256.5h0M136.9 252.6h0M139.3 266.1h0M138.0 251.8h0M137.8 265.4h0M124.5 263.2h0M133.1 264.9h0M135.5 247.3h0M124.7 262.7h0M139.7 260.9h0M135.8 227.5h0M128.3 265.6h0M136.2 260.5h0M138.4 241.4h0M138.2 261.8h0M135.5 263.3h0M127.2 266.3h0M136.1 260.8h0M128.2 263.0h0M134.8 257.5h0M134.8 266.5h0M135.9 239.1h0M135.3 263.2h0M132.5 263.0h0M134.2 260.6h0M128.6 261.1h0M137.8 263.2h0M138.9 251.2h0M134.4 257.0h0M137.5 254.8h0M138.0 247.5h0M128.6 266.9h0M129.8 263.7h0M131.8 247.5h0M132.5 265.8h0M135.4 266.8h0M139.7 262.8h0M130.8 264.3h0M137.8 254.4h0M132.6 262.4h0M135.0 233.2h0M132.2 257.2h0M130.5 262.9h0M137.7 256.8h0M135.6 264.3h0M134.4 251.7h0M137.8 253.2h0M137.2 260.8h0M135.6 248.6h0M130.7 265.5h0M134.9 263.9h0M138.2 262.9h0M136.3 236.9h0M139.0 263.9h0M137.5 241.6h0M134.9 262.1h0M139.7 266.2h0M133.8 262.9h0M137.9 237.8h0M136.3 245.9h0M135.4 261.9h0M133.8 253.8h0M133.8 263.8h0M131.8 261.6h0M135.3 259.9h0M130.6 264.3h0M133.3 263.2h0M136.1 264.2h0M139.0 258.4h0M128.1 266.8h0M135.5 251.6h0M137.2 242.2h0M139.9 264.5h0M137.6 260.1h0M137.2 254.8h0M135.1 252.6h0M136.7 266.2h0M134.2 236.8h0M136.4 258.3h0M130.1 262.7h0M138.3 242.2h0M134.3 262.8h0M137.5 252.6h0M136.9 249.0h0M131.4 260.5h0M138.0 246.6h0M138.8 265.9h0M138.0 262.5h0M134.7 261.0h0M133.2 259.5h0M135.5 262.6h0M137.6 250.7h0M137.9 253.4h0M137.0 257.3h0M129.4 254.7h0M138.8 246.9h0M136.4 255.1h0M133.8 248.5h0M137.1 265.9h0M131.7 258.8h0M132.0 264.3h0M136.7 251.8h0M138.9 264.4h0M135.3 266.3h0M130.5 257.2h0M138.2 263.2h0M131.0 256.5h0M134.7 263.7h0M137.5 267.2h0M137.4 264.3h0M131.8 266.7h0M137.3 252.6h0M138.6 266.8h0M137.2 264.9h0M137.1 258.4h0M135.5 259.7h0M138.8 265.0h0M136.3 251.0h0M138.1 252.5h0M139.0 253.8h0M132.8 266.9h0M139.9 266.6h0M138.5 258.4h0M131.9 262.7h0M136.3 260.8h0M137.4 249.2h0M135.4 252.7h0M137.0 229.1h0M136.4 266.5h0M139.4 261.8h0M138.1 257.0h0M133.3 263.5h0M135.6 265.3h0M136.9 265.3h0M134.3 255.4h0M139.3 265.2h0M138.2 256.4h0M135.6 259.9h0M131.4 256.5h0M137.5 240.9h0M137.7 244.8h0M129.2 266.6h0M126.9 265.2h0M138.6 255.8h0M139.1 258.4h0M133.8 265.6h0M135.1 258.3h0M139.8 266.8h0M131.3 265.5h0M131.8 252.7h0M137.6 261.8h0M138.2 265.7h0M125.6 253.9h0M136.7 245.6h0M131.1 253.1h0M138.2 266.0h0M132.6 266.2h0M137.0 265.1h0M125.9 264.6h0M138.0 256.2h0M135.0 241.4h0M138.7 255.5h0M135.4 262.9h0M128.0 265.9h0M138.1 267.1h0M132.0 263.0h0M134.2 267.1h0M130.8 261.7h0M133.5 266.8h0M134.6 266.5h0M130.7 263.7h0M131.3 261.3h0M138.5 258.1h0M136.1 246.2h0M133.4 262.9h0M134.6 266.0h0M131.6 265.2h0M137.7 258.2h0M137.7 256.3h0M138.7 255.7h0M133.2 266.7h0M138.6 257.3h0M139.0 256.1h0M132.3 256.7h0M131.8 261.5h0M130.5 259.1h0M138.7 266.6h0M120.8 264.9h0M137.2 262.8h0M130.1 258.3h0M137.3 255.2h0M137.6 234.0h0M137.8 252.8h0M139.5 264.8h0M137.6 243.5h0M133.6 243.5h0M136.0 258.2h0M137.5 265.7h0M140.0 267.0h0M136.7 235.1h0M136.0 256.2h0M128.8 265.6h0M131.9 260.8h0M134.7 247.6h0M131.8 245.2h0M139.5 260.0h0M133.2 251.9h0M139.5 259.2h0M137.9 252.9h0M138.8 260.2h0M139.3 264.1h0M139.0 255.1h0M134.0 267.0h0M130.4 261.8h0M137.4 266.0h0M136.5 262.2h0M131.6 266.2h0M138.8 263.3h0M138.4 266.3h0M131.1 250.4h0M136.2 266.3h0M136.4 254.4h0M125.4 265.8h0M131.4 254.2h0M137.1 267.1h0M138.3 256.7h0M133.8 259.1h0M139.0 262.6h0M132.6 258.8h0M130.8 255.5h0M132.0 253.1h0M134.6 256.0h0M134.4 266.9h0M129.3 262.2h0M134.9 248.5h0M127.0 262.0h0M139.4 256.3h0M134.7 263.4h0M134.3 263.7h0M136.2 232.1h0M131.6 257.8h0M136.1 251.1h0M137.0 221.4h0M134.8 264.6h0M135.5 262.5h0M138.5 247.9h0M135.8 244.7h0M132.4 254.0h0M137.5 247.6h0M132.0 266.2h0M136.8 251.7h0M131.9 263.1h0M136.5 260.4h0M139.0 260.5h0M127.7 257.9h0M136.5 262.6h0M135.2 245.4h0M123.4 266.4h0M136.7 265.1h0M125.2 267.1h0M135.8 264.5h0M120.3 265.5h0M136.3 262.1h0M132.7 255.0h0M139.3 254.8h0M134.7 267.0h0M138.5 256.8h0M136.0 237.6h0M133.2 258.0h0M135.4 259.1h0M138.9 256.7h0M137.7 266.6h0M137.6 267.1h0M137.2 266.1h0M131.2 261.2h0M138.1 264.4h0M138.4 254.2h0M137.3 264.0h0M137.4 262.5h0M134.6 255.6h0M134.4 266.3h0M137.5 251.3h0M137.8 266.9h0M136.4 250.0h0M137.5 252.8h0M135.2 267.1h0M136.8 265.3h0M137.8 257.6h0M137.8 259.3h0M136.5 265.8h0M133.4 266.3h0M139.0 257.8h0M139.3 259.7h0M137.6 267.1h0M131.9 250.2h0M128.4 263.2h0M133.9 255.8h0M131.3 264.6h0M136.9 263.1h0M139.5 264.7h0M138.3 253.1h0M134.9 254.3h0M138.4 264.9h0M135.9 262.9h0M135.5 263.2h0M135.5 249.1h0M133.3 266.7h0M129.4 264.8h0M136.9 266.9h0M138.7 261.7h0M137.4 256.2h0M138.2 261.4h0M139.2 265.5h0M132.8 266.1h0M135.1 266.6h0M135.6 242.7h0M136.2 260.0h0M137.9 255.1h0M130.0 259.8h0M131.5 249.9h0M132.3 266.2h0M137.3 264.8h0M137.0 265.5h0M136.5 266.4h0M133.6 264.5h0M136.9 255.5h0M134.3 266.5h0M138.4 265.2h0M137.9 257.5h0M136.7 230.4h0M139.4 261.4h0M138.8 257.8h0M133.4 260.8h0M138.5 255.2h0M139.0 260.4h0M133.4 259.0h0M133.8 257.8h0M133.8 241.3h0M136.5 255.2h0M136.0 246.5h0M138.7 265.4h0M133.9 246.6h0M139.7 266.4h0M138.3 262.1h0M136.0 265.9h0M131.2 259.4h0M134.4 242.3h0M134.0 267.1h0M138.0 240.9h0M133.3 260.8h0M128.6 240.9h0M138.8 258.6h0M137.8 265.0h0M136.4 261.8h0M134.4 264.9h0M138.6 262.6h0M139.3 263.5h0M138.7 263.0h0M140.0 265.6h0M139.5 258.9h0M132.0 264.6h0M137.6 256.2h0M139.9 265.9h0M136.7 238.6h0M134.7 265.8h0M134.6 259.5h0M136.2 247.9h0M138.3 265.6h0M134.3 259.4h0M137.7 247.7h0M131.3 257.6h0M127.6 264.4h0M137.6 241.9h0M138.0 245.3h0M134.5 266.2h0M139.4 264.2h0M136.0 236.9h0M135.5 260.5h0M136.9 250.4h0M132.0 260.8h0M139.7 266.1h0M131.7 259.4h0M130.1 252.9h0M130.0 265.3h0M132.9 266.5h0M134.9 265.4h0M139.3 256.7h0M135.4 263.1h0M138.8 260.6h0M137.7 255.2h0M131.9 258.5h0M138.0 252.9h0M129.6 267.1h0M138.3 256.2h0M134.0 257.9h0M129.0 253.5h0M125.1 264.8h0M133.0 265.1h0M127.3 262.5h0M136.7 264.8h0M134.9 255.4h0M134.1 254.3h0M139.3 266.0h0M135.6 264.5h0M135.4 266.9h0M135.2 262.3h0M125.8 266.5h0M133.2 259.6h0M138.0 263.3h0M133.2 265.5h0M131.1 261.4h0M139.0 265.6h0M129.7 263.1h0M137.4 251.2h0M134.2 258.1h0M134.7 237.1h0M139.5 265.3h0M134.6 264.6h0M132.4 251.9h0M134.4 248.7h0M139.3 259.3h0M138.8 260.4h0M139.1 255.7h0M137.5 267.2h0M139.9 265.5h0M139.5 264.9h0M135.4 264.5h0M119.9 267.0h0M123.5 266.1h0M132.9 265.8h0M134.5 263.6h0M139.1 262.4h0M139.7 261.4h0M137.8 266.4h0M132.2 265.6h0M135.7 256.6h0M137.3 264.5h0M130.2 263.5h0M134.8 261.2h0M127.9 259.9h0M134.1 266.7h0M132.2 262.9h0M138.3 256.0h0M131.4 252.8h0M136.3 266.3h0M137.8 256.3h0M138.4 252.7h0M135.3 266.3h0M137.0 257.5h0M138.6 265.3h0M133.7 259.4h0M134.2 264.8h0M132.9 264.5h0M136.6 255.8h0M139.4 266.9h0M135.5 264.1h0M137.0 258.1h0M134.0 246.6h0M136.4 265.2h0M131.2 264.5h0M138.4 265.7h0M131.9 251.6h0M131.1 256.0h0M137.1 263.9h0M139.6 263.8h0M137.8 258.9h0M132.2 266.4h0M137.6 265.7h0M135.9 243.4h0M134.9 265.2h0M131.8 266.1h0M139.6 263.2h0M131.2 256.0h0M137.9 266.2h0M134.1 266.6h0M135.1 264.6h0M138.7 257.4h0M134.8 261.4h0M138.8 256.1h0M134.2 261.9h0M134.2 243.9h0M136.3 266.2h0M136.7 261.8h0M135.9 266.9h0M136.6 231.9h0M138.1 261.6h0M139.0 258.6h0M137.7 254.9h0M137.5 254.1h0M138.9 262.8h0M137.9 266.3h0M139.5 264.2h0M137.8 254.2h0M137.7 266.5h0M127.6 265.6h0M137.5 265.6h0M139.4 265.5h0M133.4 263.5h0M139.3 266.0h0M121.9 266.1h0M139.2 264.5h0M131.1 246.4h0M132.2 261.5h0M137.6 264.2h0M137.8 261.6h0M129.3 266.0h0M137.0 265.3h0M138.6 252.3h0M139.9 263.5h0M135.3 261.6h0M134.6 225.8h0M130.0 263.8h0M139.9 265.5h0M134.0 265.4h0M134.6 262.4h0M129.9 259.6h0M139.4 267.1h0M133.8 246.8h0M135.5 240.2h0M131.8 252.0h0M135.8 264.5h0M135.4 263.3h0M136.5 263.0h0M137.1 245.9h0M131.6 262.5h0M132.0 254.7h0M129.7 264.7h0M135.3 225.7h0M139.1 255.6h0M128.1 264.6h0M132.3 257.7h0M131.2 265.9h0M134.4 260.3h0M130.1 263.4h0M134.2 250.7h0M128.7 265.9h0M138.3 242.5h0M131.8 257.8h0M134.1 266.8h0M134.4 261.8h0M137.7 263.5h0M132.2 249.1h0M137.3 265.1h0M135.7 266.3h0M128.9 263.7h0M138.1 264.9h0M129.7 266.5h0M135.6 265.2h0M131.2 261.7h0M135.1 239.8h0M130.9 263.9h0M130.7 261.6h0M138.4 246.8h0M135.6 248.8h0M133.9 259.6h0M135.6 251.5h0M133.9 260.7h0M138.5 248.3h0M138.2 257.5h0M134.3 263.2h0M137.7 238.9h0M136.9 245.4h0M133.9 266.9h0M136.6 256.0h0M133.8 262.2h0M136.3 251.9h0M137.3 253.4h0M136.7 255.1h0M137.4 252.8h0M132.6 223.8h0M133.0 262.2h0M134.9 243.6h0M138.1 265.2h0M135.3 255.5h0M132.6 265.4h0M137.8 257.4h0M110.8 265.8h0M133.0 259.9h0M135.3 253.1h0M128.6 260.1h0M136.3 254.5h0M136.2 244.3h0M132.3 265.1h0M138.1 246.9h0M134.5 246.7h0M137.4 243.2h0M134.9 259.9h0M134.3 252.8h0M136.1 262.3h0M137.0 264.3h0M133.1 262.4h0M139.5 266.3h0M134.1 267.1h0M133.1 254.9h0M139.7 264.8h0M132.0 265.5h0M136.7 259.0h0M137.6 259.4h0M139.4 255.9h0M131.7 256.2h0M132.3 264.4h0M126.6 266.7h0M137.1 241.6h0M139.1 266.6h0M138.1 253.0h0M136.9 261.7h0M134.9 258.2h0M139.2 254.3h0M138.8 264.7h0M136.5 262.5h0M138.6 258.6h0M136.3 265.0h0M138.0 266.4h0M135.1 261.0h0M132.9 265.4h0M137.6 235.1h0M133.6 261.3h0M137.5 265.2h0M137.6 259.2h0M136.8 266.5h0M134.5 256.5h0M138.6 263.3h0M134.4 262.3h0M132.4 262.8h0M134.3 265.7h0M133.2 267.1h0M138.5 250.4h0M134.7 258.4h0M135.6 244.7h0M136.0 264.1h0M135.0 260.0h0M134.0 240.7h0M131.3 265.8h0M132.7 253.3h0M137.5 259.3h0M135.8 241.5h0M136.8 260.1h0M137.6 266.1h0M138.5 247.0h0M138.5 263.7h0M134.3 261.4h0M138.7 247.2h0M125.9 263.4h0M137.2 258.1h0M136.9 261.4h0M135.0 258.9h0M138.9 253.5h0M134.0 262.8h0M133.4 263.2h0M135.8 264.3h0M138.3 263.6h0M136.8 256.8h0M139.3 267.0h0M137.7 252.7h0M139.8 265.8h0M137.8 264.5h0M137.4 255.5h0M131.5 241.1h0M137.6 260.1h0M137.9 244.2h0M136.4 262.1h0M132.7 249.8h0M129.6 262.9h0M134.1 254.8h0M138.1 259.1h0M139.9 266.7h0M129.5 266.0h0M138.4 258.4h0M137.8 266.1h0M136.7 258.9h0M134.8 257.3h0M137.3 232.9h0M136.3 262.1h0M136.9 264.8h0M133.7 234.6h0M139.7 265.5h0M136.5 265.4h0M135.8 255.3h0M129.8 266.7h0M138.1 266.9h0M137.8 262.1h0M132.4 261.9h0M136.1 248.3h0M136.6 262.7h0M133.9 241.7h0M130.2 259.9h0M137.1 265.8h0M135.1 256.8h0M136.2 267.2h0M130.3 260.8h0M138.0 267.2h0M134.5 257.4h0M138.9 259.7h0M135.2 238.6h0M134.5 239.6h0M136.2 263.8h0M138.3 263.0h0M129.7 253.2h0M133.3 253.4h0M125.7 256.9h0M139.7 263.8h0M135.5 258.8h0M135.2 265.7h0M134.2 264.3h0M131.7 244.4h0M134.0 254.6h0M139.5 265.8h0M134.0 246.1h0M128.3 259.4h0M133.0 266.4h0M136.3 253.9h0M136.8 266.1h0M133.0 249.0h0M136.3 264.6h0M138.1 255.6h0M137.7 261.2h0M144.6 255.8h0M151.7 264.3h0M155.5 263.1h0M149.6 262.3h0M146.2 259.7h0M152.0 261.8h0M151.4 249.5h0M151.0 261.5h0M142.5 266.1h0M145.8 257.1h0M151.1 266.7h0M143.6 255.2h0M146.8 266.0h0M147.4 264.7h0M148.1 252.2h0M144.1 266.4h0M144.3 250.3h0M143.7 261.7h0M144.6 261.6h0M152.5 263.5h0M144.5 243.2h0M145.4 252.2h0M145.6 266.1h0M149.4 263.6h0M149.4 265.6h0M145.4 253.5h0M146.5 264.6h0M145.0 246.2h0M151.9 258.8h0M144.6 258.3h0M146.5 260.4h0M148.4 266.3h0M145.5 245.4h0M149.8 255.1h0M154.4 264.9h0M145.4 238.2h0M146.6 244.4h0M149.9 260.0h0M144.3 262.6h0M145.5 261.6h0M143.4 261.2h0M148.1 260.0h0M145.5 254.5h0M144.8 247.9h0M159.5 263.1h0M147.3 265.9h0M148.1 259.4h0M144.0 260.2h0M146.8 263.9h0M143.3 266.0h0M148.2 264.2h0M146.9 240.9h0M150.9 256.9h0M152.6 258.3h0M148.2 260.2h0M149.6 263.2h0M147.3 259.0h0M158.9 264.7h0M144.7 235.2h0M143.1 260.0h0M145.9 265.2h0M143.5 251.1h0M147.6 257.4h0M149.7 224.2h0M143.1 257.1h0M142.9 266.8h0M147.8 262.3h0M143.8 259.7h0M155.6 267.1h0M148.8 259.3h0M146.2 251.8h0M142.9 265.4h0M151.2 251.3h0M151.5 264.4h0M146.9 248.3h0M144.4 237.1h0M143.4 262.6h0M144.8 251.4h0M147.8 231.9h0M149.4 264.4h0M149.0 265.8h0M147.4 239.9h0M148.1 221.8h0M143.3 257.8h0M143.8 265.6h0M150.4 263.2h0M143.7 246.7h0M146.2 265.7h0M152.8 265.8h0M148.9 265.7h0M149.3 261.0h0M146.2 262.5h0M144.7 260.2h0M142.9 262.3h0M142.8 264.8h0M146.5 251.8h0M148.8 264.7h0M146.5 262.8h0M143.1 263.6h0M146.6 257.4h0M148.1 251.2h0M145.0 244.3h0M143.8 259.0h0M144.9 266.4h0M150.3 263.6h0M147.3 262.3h0M157.4 263.9h0M143.7 264.7h0M144.5 265.7h0M146.7 245.8h0M145.7 256.3h0M144.3 266.8h0M148.2 266.0h0M150.5 265.7h0M148.8 258.5h0M145.3 263.6h0M143.0 266.2h0M151.8 260.9h0M146.0 265.6h0M147.7 257.6h0M143.0 266.3h0M142.9 265.0h0M143.5 262.7h0M145.1 256.9h0M145.9 222.0h0M146.4 257.3h0M150.7 265.0h0M148.0 262.2h0M150.1 265.7h0M146.1 225.7h0M147.1 244.8h0M146.8 261.2h0M146.3 265.3h0M147.7 252.5h0M153.3 264.1h0M147.1 261.5h0M146.0 265.8h0M143.3 256.9h0M155.0 256.6h0M151.5 266.8h0M143.8 256.0h0M145.5 263.7h0M152.1 266.7h0M147.6 263.4h0M148.3 256.6h0M150.1 264.3h0M144.6 233.2h0M142.7 266.3h0M147.6 255.7h0M149.7 265.7h0M143.9 248.9h0M145.6 262.9h0M144.5 257.3h0M142.7 263.3h0M146.9 248.8h0M143.7 245.9h0M147.2 253.5h0M147.1 236.2h0M149.3 258.0h0M145.3 265.3h0M147.9 260.7h0M143.3 263.0h0M146.2 260.9h0M145.0 264.3h0M148.7 261.0h0M143.1 257.5h0M147.8 265.4h0M143.9 254.1h0M144.2 256.4h0M150.3 264.7h0M147.1 244.1h0M143.0 264.2h0M145.6 262.6h0M153.1 261.3h0M144.3 255.5h0M149.2 263.3h0M149.3 264.0h0M149.3 255.5h0M143.7 265.1h0M151.9 257.8h0M148.1 257.2h0M150.0 264.4h0M143.6 266.6h0M144.7 238.2h0M149.9 260.6h0M153.3 252.7h0M144.2 264.9h0M145.1 253.1h0M147.7 255.3h0M143.1 264.4h0M145.7 261.3h0M151.8 250.4h0M147.3 249.2h0M145.1 263.9h0M145.0 234.7h0M146.0 264.3h0M145.6 244.5h0M146.3 250.2h0M145.8 247.5h0M144.5 254.0h0M152.3 263.0h0M151.4 262.1h0M146.5 262.7h0M145.5 267.0h0M143.3 262.8h0M143.3 263.1h0M146.6 254.5h0M149.8 258.5h0M152.4 265.3h0M143.9 258.8h0M146.5 264.1h0M150.4 245.9h0M149.9 264.8h0M146.9 263.7h0M147.0 266.9h0M149.7 259.0h0M145.6 260.9h0M145.7 263.9h0M151.1 262.4h0M153.6 266.1h0M144.9 229.0h0M155.4 264.7h0M144.0 259.3h0M144.1 253.1h0M144.2 252.4h0M152.7 261.4h0M146.9 228.6h0M144.7 264.9h0M144.7 258.5h0M153.3 260.1h0M143.6 262.8h0M145.5 264.5h0M156.8 254.8h0M150.4 266.4h0M142.8 261.7h0M142.9 266.3h0M147.5 266.4h0M147.2 260.9h0M144.9 264.2h0M147.5 231.6h0M150.3 265.6h0M143.1 263.1h0M145.5 249.7h0M154.9 263.3h0M148.7 263.6h0M148.0 264.2h0M148.8 266.4h0M144.3 266.1h0M147.4 257.7h0M143.7 263.7h0M145.7 250.6h0M146.7 239.3h0M145.7 263.2h0M144.7 257.6h0M147.9 257.5h0M144.8 264.8h0M151.4 253.3h0M145.7 263.0h0M146.4 255.5h0M144.5 238.5h0M145.7 257.0h0M148.8 261.5h0M147.0 265.2h0M149.4 256.7h0M144.7 264.5h0M145.2 258.8h0M148.3 265.5h0M143.1 260.1h0M151.8 265.9h0M143.5 265.9h0M146.1 263.9h0M148.9 258.7h0M146.1 253.8h0M144.5 262.0h0M149.8 251.5h0M146.9 263.2h0M153.5 261.9h0M144.8 257.8h0M143.8 266.2h0M144.4 243.1h0M144.6 235.4h0M146.6 250.6h0M146.3 265.5h0M150.0 267.1h0M150.2 247.6h0M146.5 256.8h0M145.3 260.4h0M145.5 246.9h0M148.2 263.5h0M143.5 266.6h0M145.0 266.5h0M144.9 265.7h0M145.2 264.1h0M151.7 246.3h0M147.7 249.1h0M143.6 253.1h0M153.0 264.3h0M147.0 255.5h0M155.1 264.9h0M149.7 260.1h0M144.8 258.8h0M145.1 256.5h0M144.2 261.7h0M149.7 265.3h0M145.0 239.4h0M150.2 251.4h0M144.8 264.7h0M148.7 264.9h0M148.6 265.0h0M144.3 260.9h0M152.2 261.0h0M144.4 255.1h0M145.2 248.7h0M146.0 263.4h0M145.8 255.5h0M147.6 260.6h0M149.1 265.7h0M145.9 260.9h0M145.5 253.5h0M152.0 263.3h0M146.2 252.3h0M145.3 258.2h0M148.2 261.4h0M148.6 265.0h0M153.3 262.1h0M142.7 264.6h0M148.8 251.4h0M145.2 258.5h0M143.5 266.0h0M146.7 249.6h0M146.8 253.5h0M152.5 262.1h0M146.1 257.3h0M143.8 266.3h0M146.1 262.5h0M142.8 265.0h0M145.2 249.3h0M145.0 265.4h0M145.1 259.5h0M148.7 260.3h0M154.0 262.1h0M142.7 267.1h0M144.1 243.6h0M144.4 254.2h0M146.6 259.7h0M144.0 253.7h0M143.3 264.0h0M146.8 259.6h0M147.0 257.9h0M148.2 266.6h0M144.0 258.0h0M145.8 260.1h0M150.4 255.5h0M147.9 249.0h0M142.5 266.7h0M145.3 264.6h0M147.7 266.4h0M142.9 264.0h0M149.9 261.7h0M149.2 255.8h0M142.6 266.1h0M143.4 263.7h0M146.4 266.2h0M148.7 218.6h0M153.3 265.1h0M145.0 262.5h0M146.1 243.4h0M146.2 266.5h0M147.4 241.0h0M143.2 262.1h0M145.7 254.2h0M149.2 265.5h0M147.5 262.6h0M146.3 257.6h0M149.8 259.9h0M144.6 264.7h0M144.3 260.0h0M144.5 263.1h0M144.1 248.3h0M143.1 258.4h0M146.2 258.3h0M148.9 266.0h0M145.0 264.0h0M152.9 265.2h0M147.2 258.1h0M151.0 267.0h0M146.3 262.0h0M150.1 263.6h0M145.2 266.0h0M146.5 253.3h0M153.6 264.0h0M146.0 266.1h0M153.3 255.5h0M149.3 267.0h0M145.1 255.8h0M145.5 262.7h0M145.3 261.0h0M144.3 260.6h0M148.7 264.0h0M143.9 262.1h0M148.2 264.9h0M143.9 258.0h0M148.9 251.3h0M149.3 264.3h0M149.7 266.2h0M144.6 248.8h0M153.0 265.2h0M146.6 264.3h0M149.5 265.7h0M144.3 242.4h0M144.0 247.0h0M150.4 262.4h0M157.1 266.9h0M147.4 264.0h0M143.4 259.4h0M145.0 244.3h0M145.9 266.2h0M153.0 267.0h0M147.5 263.0h0M148.1 267.1h0M143.0 265.7h0M145.3 266.4h0M146.1 265.3h0M143.6 251.9h0M142.8 262.4h0M146.5 250.9h0M142.6 266.8h0M145.4 241.5h0M152.5 262.5h0M150.4 266.3h0M145.7 266.6h0M149.1 255.9h0M146.7 264.3h0M142.8 262.1h0M147.2 264.3h0M145.4 264.3h0M151.0 258.1h0M148.1 261.1h0M148.4 264.9h0M147.3 261.0h0M146.6 255.9h0M146.3 247.4h0M156.0 264.4h0M145.4 226.1h0M144.2 241.7h0M152.6 258.8h0M152.1 265.2h0M143.4 252.5h0M152.5 259.9h0M148.9 265.5h0M145.7 264.5h0M145.3 261.7h0M149.0 256.1h0M148.2 266.2h0M148.0 261.5h0M151.1 266.8h0M148.9 265.3h0M144.2 262.3h0M146.0 263.0h0M150.9 257.9h0M149.3 262.6h0M145.9 265.4h0M149.3 240.7h0M145.8 223.7h0M145.1 261.6h0M146.1 255.1h0M151.6 256.1h0M146.3 248.4h0M144.3 264.4h0M149.6 263.9h0M146.2 263.1h0M150.9 250.7h0M144.4 257.4h0M145.7 259.7h0M144.1 265.1h0M145.2 265.7h0M144.6 256.0h0M154.6 263.7h0M144.5 250.4h0M147.2 262.7h0M148.8 267.1h0M145.2 267.1h0M143.5 249.6h0M144.2 238.5h0M142.6 264.9h0M144.0 266.3h0M148.1 256.2h0M146.4 264.7h0M148.6 264.2h0M145.2 226.8h0M148.8 247.9h0M152.1 267.0h0M145.8 256.2h0M150.8 260.1h0M146.3 252.3h0M149.2 264.5h0M146.1 262.7h0M150.9 259.6h0M147.4 253.8h0M147.1 244.5h0M146.8 252.3h0M145.0 243.8h0M147.1 263.1h0M145.7 256.3h0M146.8 243.4h0M147.7 242.6h0M148.0 253.8h0M144.9 254.5h0M149.4 263.8h0M147.1 252.5h0M148.1 264.7h0M155.6 266.0h0M148.6 265.9h0M144.1 240.7h0M148.8 216.4h0M146.1 258.3h0M146.6 265.5h0M143.2 266.5h0M149.4 261.8h0M143.5 262.5h0M149.2 239.8h0M147.8 253.8h0M143.2 259.4h0M147.7 261.2h0M147.1 262.7h0M148.5 263.7h0M146.5 258.9h0M142.7 263.6h0M144.4 267.1h0M143.8 262.3h0M146.9 251.1h0M153.6 251.1h0M143.6 259.4h0M143.1 262.9h0M144.3 264.5h0M144.2 260.3h0M148.9 263.0h0M142.8 266.2h0M145.1 255.5h0M151.3 266.1h0M153.7 259.1h0M153.0 254.6h0M149.9 266.8h0M149.1 264.3h0M147.1 244.8h0M154.8 264.7h0M146.2 259.6h0M145.8 254.5h0M146.2 258.7h0M147.5 243.8h0M148.9 259.8h0M146.4 224.1h0M151.1 266.9h0M144.6 255.7h0M146.5 236.4h0M147.1 258.3h0M146.6 260.4h0M158.9 267.1h0M144.2 263.8h0M144.3 253.3h0M150.0 266.9h0M151.9 264.8h0M144.1 262.9h0M151.5 260.5h0M146.1 258.9h0M147.7 239.8h0M146.5 253.8h0M144.1 260.8h0M148.9 262.9h0M152.4 265.5h0M144.8 259.9h0M158.8 267.0h0M157.7 264.4h0M143.2 265.6h0M147.5 250.9h0M146.4 243.8h0M144.4 266.6h0M146.0 265.9h0M145.2 264.0h0M151.0 266.0h0M145.7 252.8h0M143.4 251.9h0M145.4 251.9h0M153.3 252.4h0M155.7 264.9h0M143.4 251.7h0M143.7 266.3h0M151.9 258.3h0M147.1 251.3h0M143.7 251.3h0M145.8 244.7h0M150.0 257.0h0M146.4 250.4h0M144.7 264.6h0M150.1 260.2h0M149.2 247.7h0M145.7 264.7h0M152.1 266.0h0M143.6 253.8h0M148.3 266.3h0M143.6 264.3h0M148.1 252.2h0M147.4 265.7h0M145.7 248.4h0M152.6 265.6h0M147.6 266.3h0M146.3 257.4h0M144.9 257.5h0M147.1 248.8h0M146.6 266.9h0M143.2 263.5h0M151.6 256.1h0M150.0 253.6h0M144.6 266.0h0M144.0 262.9h0M146.8 255.3h0M145.0 265.1h0M146.3 249.5h0M148.0 258.2h0M144.2 244.6h0M147.9 242.3h0M145.1 249.6h0M142.7 264.6h0M145.4 261.0h0M145.9 254.2h0M146.9 225.7h0M150.9 261.4h0M148.4 247.4h0M148.9 263.0h0M147.8 255.2h0M145.3 244.4h0M146.9 260.8h0M149.4 264.2h0M145.0 245.6h0M147.4 246.2h0M145.6 237.6h0M151.0 265.9h0M146.2 248.9h0M144.1 262.5h0M143.5 250.5h0M149.0 252.0h0M151.3 265.1h0M147.9 254.8h0M143.9 265.3h0M143.5 252.9h0M145.5 233.3h0M147.4 265.0h0M146.8 259.6h0M148.6 247.6h0M145.6 263.2h0M150.0 266.2h0M145.6 259.4h0M148.8 261.9h0M143.4 263.4h0M149.4 262.4h0M154.1 259.3h0M146.6 260.2h0M144.8 263.8h0M157.9 261.2h0M147.9 259.8h0M146.2 265.1h0M143.9 263.4h0M145.8 253.6h0M145.3 253.7h0M149.8 262.0h0M144.5 266.8h0M147.7 266.6h0M150.8 262.9h0M145.0 244.9h0M147.8 266.6h0M145.1 260.0h0M146.6 266.8h0M152.0 261.3h0M144.8 258.5h0M147.0 264.3h0M144.2 265.4h0M145.5 265.4h0M148.0 256.0h0M145.6 263.4h0M149.4 257.8h0M146.3 262.8h0M145.0 234.9h0M150.1 257.3h0M144.5 266.3h0M144.1 263.6h0M155.9 267.1h0M149.7 262.0h0M149.3 255.9h0M143.7 264.0h0M152.5 264.0h0M147.9 255.8h0M150.3 259.6h0M147.5 252.2h0M144.9 228.9h0M143.7 267.1h0M143.8 260.2h0M143.3 262.8h0M148.2 265.1h0M150.4 253.6h0M145.8 261.2h0M143.1 266.9h0M146.8 261.5h0M143.0 267.2h0M150.0 254.4h0M150.9 258.2h0M145.9 257.4h0M151.2 265.2h0M144.5 255.6h0M144.8 265.2h0M148.3 266.3h0M143.7 263.4h0M151.2 265.5h0M149.0 255.5h0M150.0 265.8h0M142.6 266.3h0M150.3 264.4h0M146.4 248.1h0M144.6 254.9h0M146.6 256.6h0M144.9 240.7h0M146.8 239.4h0M143.1 263.8h0M155.4 265.2h0M148.8 267.0h0M143.6 251.2h0M144.2 246.8h0M143.3 264.4h0M145.6 263.1h0M144.7 266.1h0M146.6 259.5h0M145.2 262.0h0M148.4 254.0h0M149.1 255.8h0M151.5 253.3h0M147.7 259.9h0M143.4 265.9h0M144.9 247.9h0M144.8 244.1h0M149.3 247.8h0M144.7 264.8h0M145.4 260.4h0M147.4 261.1h0M145.5 257.5h0M150.5 262.3h0M146.1 231.3h0M152.7 266.8h0M145.3 264.4h0M145.0 260.5h0M143.4 265.5h0M145.2 258.5h0M145.4 249.7h0M145.5 254.3h0M147.6 261.6h0M145.0 262.7h0M148.5 239.1h0M151.7 247.5h0M157.6 265.2h0M147.1 266.1h0M144.4 250.4h0M151.7 259.0h0M145.6 266.3h0M143.8 253.6h0M146.1 255.8h0M151.0 262.5h0M153.6 254.9h0M146.5 262.9h0M151.2 252.8h0M144.7 264.0h0M149.2 260.2h0M143.7 266.5h0M145.3 249.8h0M146.9 234.7h0M145.2 241.1h0M143.6 256.4h0M143.8 255.6h0M144.1 244.3h0M151.7 262.1h0M149.2 264.3h0M147.4 266.9h0M145.0 266.8h0M153.6 265.9h0M142.9 265.1h0M150.5 265.8h0M147.7 259.4h0M156.6 266.0h0M151.3 267.2h0M162.3 262.4h0M150.9 266.2h0M146.7 239.9h0M152.0 266.8h0M148.8 256.6h0M142.9 265.8h0M143.8 260.8h0M145.5 248.6h0M143.2 262.4h0M147.1 261.7h0M152.8 257.9h0M147.9 260.8h0M146.7 260.8h0M142.8 267.1h0M143.9 263.7h0M145.5 262.4h0M149.5 266.9h0M145.6 248.5h0M144.1 256.6h0M153.2 264.0h0M144.8 255.6h0M149.5 259.2h0M145.3 253.9h0M146.7 251.8h0M145.4 252.7h0M143.0 265.1h0M144.3 266.2h0M151.4 257.9h0M149.0 253.8h0M144.2 244.6h0M146.8 257.9h0M149.1 261.2h0M145.3 254.6h0M144.1 262.3h0M149.7 262.3h0M145.9 263.2h0M147.9 262.8h0M145.5 235.5h0M153.4 266.4h0M143.7 262.7h0M147.5 261.9h0M146.0 264.8h0M154.2 267.1h0M153.4 264.2h0M143.7 261.6h0M144.7 247.4h0M143.5 251.1h0M146.8 256.6h0M147.5 253.0h0M143.8 264.8h0M149.0 253.0h0M152.7 266.1h0M151.4 259.2h0M143.6 261.7h0M152.7 265.8h0M146.6 266.6h0M145.8 252.5h0M147.2 247.5h0M145.0 243.2h0M144.5 259.3h0M142.7 262.3h0M154.1 255.6h0M143.3 266.0h0M147.8 259.6h0M153.3 263.7h0M147.1 265.4h0M148.7 255.9h0M150.5 240.3h0M145.0 263.7h0M144.5 262.5h0M146.0 258.5h0M147.4 266.9h0M146.4 266.0h0M144.1 264.0h0M148.1 258.6h0M147.1 264.6h0M144.4 259.4h0M154.1 265.7h0M155.6 264.5h0M148.0 265.6h0M145.7 265.3h0M145.8 263.6h0M143.1 262.7h0M148.7 261.5h0M144.7 262.7h0M155.5 262.3h0M143.8 244.6h0M158.4 260.6h0M145.9 257.0h0M146.2 265.9h0M147.3 248.0h0M149.7 261.7h0M143.8 260.6h0M181.4 260.0h0M150.4 261.1h0M156.2 251.1h0M125.6 258.7h0M160.6 265.8h0M176.3 259.6h0M110.3 256.5h0M114.2 267.1h0M177.6 266.8h0M156.4 263.9h0M164.7 257.9h0M158.4 257.9h0M119.7 259.7h0M172.7 260.4h0M159.2 265.6h0M124.9 259.8h0M113.0 265.1h0M111.6 265.2h0M158.1 266.3h0M156.0 257.0h0M114.8 267.0h0M166.5 264.0h0M178.5 264.1h0M120.5 266.8h0M176.7 267.1h0M107.6 266.5h0M176.2 257.2h0M116.3 266.4h0M170.8 263.3h0M160.4 266.5h0M118.2 266.2h0M162.5 263.2h0M119.5 259.3h0M115.6 262.6h0M177.6 254.7h0M114.4 262.6h0M104.7 265.3h0M150.9 266.7h0M110.0 259.4h0M160.3 266.4h0M172.2 264.9h0M170.9 254.5h0M164.9 259.0h0M159.9 261.1h0M108.8 256.6h0M172.8 263.5h0M174.3 263.2h0M164.5 266.5h0M107.0 265.4h0M110.4 261.9h0M151.6 259.0h0M167.8 263.4h0M179.1 263.4h0M103.3 266.7h0M102.2 264.3h0M102.9 266.9h0M109.5 260.3h0M120.4 256.7h0M127.4 263.5h0M180.9 259.0h0M102.0 259.7h0M159.9 260.7h0M179.5 267.0h0M178.1 261.5h0M154.4 262.7h0M180.6 267.2h0M167.7 263.3h0M121.6 261.0h0M151.7 266.6h0M129.5 264.7h0M124.0 264.3h0M118.3 263.4h0M168.6 263.5h0M165.7 257.9h0M106.2 266.8h0M116.2 261.1h0M179.3 261.8h0M102.0 266.0h0M121.5 264.7h0M152.1 263.5h0M179.3 259.5h0M169.2 265.4h0M117.4 264.1h0M163.0 266.7h0M156.2 257.5h0M105.3 258.8h0M177.7 265.9h0M173.6 246.6h0M121.9 262.9h0M162.5 260.3h0M160.7 261.0h0M154.8 259.5h0M113.7 258.6h0M117.7 247.1h0M181.4 253.6h0M132.2 266.0h0M167.2 251.7h0M167.2 266.8h0M172.3 262.1h0M114.1 253.8h0M178.0 265.7h0M121.4 267.1h0M158.3 264.9h0M124.8 261.1h0M153.3 254.7h0M115.5 265.7h0M127.8 266.8h0M164.5 265.9h0M103.1 263.4h0M179.8 265.1h0M171.5 258.1h0M169.9 263.0h0M129.6 248.0h0M127.7 254.6h0M161.2 264.6h0M163.9 267.2h0M106.3 263.3h0M124.2 259.1h0M109.7 246.6h0" stroke="#000" stroke-width="2.2" stroke-linecap="round" fill="none"/>
<circle cx="150.14" cy="151.04" r="1.10" fill="#000"/>
<circle cx="147.25" cy="173.63" r="1.10" fill="#000"/>
<circle cx="148.30" cy="185.72" r="1.10" fill="#000"/>
<circle cx="151.45" cy="185.72" r="1.10" fill="#000"/>
<circle cx="135.16" cy="195.18" r="1.10" fill="#000"/>
<circle cx="151.71" cy="193.86" r="1.10" fill="#000"/>
<circle cx="147.77" cy="198.33" r="1.10" fill="#000"/>
<circle cx="130.96" cy="203.06" r="1.10" fill="#000"/>
<circle cx="133.06" cy="203.06" r="1.10" fill="#000"/>
<circle cx="134.90" cy="203.06" r="1.10" fill="#000"/>
<circle cx="146.46" cy="203.06" r="1.10" fill="#000"/>
<circle cx="148.30" cy="203.06" r="1.10" fill="#000"/>
<circle cx="150.14" cy="203.06" r="1.10" fill="#000"/>
<circle cx="151.98" cy="203.06" r="1.10" fill="#000"/>
<circle cx="133.32" cy="207.52" r="1.10" fill="#000"/>
<circle cx="146.20" cy="207.00" r="1.10" fill="#000"/>
<circle cx="150.14" cy="207.52" r="1.10" fill="#000"/>
<circle cx="138.31" cy="210.42" r="1.10" fill="#000"/>
<circle cx="145.67" cy="210.94" r="1.10" fill="#000"/>
<circle cx="147.77" cy="211.47" r="1.10" fill="#000"/>
<circle cx="146.20" cy="214.36" r="1.10" fill="#000"/>
<circle cx="137.79" cy="217.51" r="1.10" fill="#000"/>
<circle cx="136.21" cy="218.82" r="1.10" fill="#000"/>
<circle cx="146.20" cy="218.03" r="1.10" fill="#000"/>
<circle cx="147.77" cy="218.82" r="1.10" fill="#000"/>
<circle cx="135.69" cy="224.08" r="1.10" fill="#000"/>
<circle cx="145.14" cy="224.60" r="1.10" fill="#000"/>
<circle cx="202.42" cy="231.96" r="1.10" fill="#000"/>
<circle cx="127.80" cy="231.96" r="1.10" fill="#000"/>
<circle cx="154.08" cy="231.43" r="1.10" fill="#000"/>
<circle cx="161.43" cy="229.33" r="1.10" fill="#000"/>
<circle cx="164.59" cy="229.33" r="1.10" fill="#000"/>
<circle cx="119.66" cy="234.59" r="1.10" fill="#000"/>
<circle cx="161.17" cy="234.06" r="1.10" fill="#000"/>
<circle cx="161.43" cy="238.53" r="1.10" fill="#000"/>
<circle cx="123.86" cy="239.84" r="1.10" fill="#000"/>
<circle cx="95.49" cy="243.26" r="1.10" fill="#000"/>
<circle cx="166.43" cy="243.78" r="1.10" fill="#000"/>
<circle cx="79.20" cy="254.29" r="1.10" fill="#000"/>
<circle cx="80.51" cy="257.45" r="1.10" fill="#000"/>
<circle cx="85.76" cy="259.55" r="1.10" fill="#000"/>
<circle cx="204.79" cy="252.19" r="1.10" fill="#000"/>
<circle cx="203.21" cy="255.61" r="1.10" fill="#000"/>
<circle cx="203.74" cy="259.02" r="1.10" fill="#000"/>
<circle cx="196.90" cy="254.82" r="1.10" fill="#000"/>
<circle cx="190.86" cy="254.03" r="1.10" fill="#000"/>
<circle cx="182.98" cy="255.08" r="1.10" fill="#000"/>
<circle cx="219.24" cy="264.80" r="1.10" fill="#000"/>
<circle cx="209.25" cy="266.38" r="1.10" fill="#000"/>
<circle cx="169.32" cy="251.67" r="1.10" fill="#000"/>
<circle cx="164.59" cy="252.98" r="1.10" fill="#000"/>
<circle cx="160.65" cy="253.50" r="1.10" fill="#000"/>
<circle cx="92.33" cy="259.55" r="1.10" fill="#000"/>
<circle cx="96.27" cy="260.34" r="1.10" fill="#000"/>
<circle cx="89.71" cy="263.49" r="1.10" fill="#000"/>
<circle cx="93.65" cy="264.01" r="1.10" fill="#000"/>
<circle cx="98.90" cy="263.49" r="1.10" fill="#000"/>
<circle cx="185.61" cy="260.86" r="1.10" fill="#000"/>
<circle cx="189.55" cy="262.18" r="1.10" fill="#000"/>
<circle cx="192.18" cy="261.39" r="1.10" fill="#000"/>
<circle cx="177.72" cy="260.86" r="1.10" fill="#000"/>
<circle cx="171.16" cy="259.55" r="1.10" fill="#000"/>
<circle cx="168.27" cy="173.63" r="1.10" fill="#e8141c"/>
<circle cx="160.38" cy="185.72" r="1.10" fill="#e8141c"/>
<circle cx="161.43" cy="185.72" r="1.10" fill="#e8141c"/>
<circle cx="161.96" cy="189.92" r="1.10" fill="#e8141c"/>
<circle cx="154.87" cy="203.06" r="1.10" fill="#e8141c"/>
<circle cx="167.48" cy="212.52" r="1.10" fill="#e8141c"/>
<circle cx="153.29" cy="217.25" r="1.10" fill="#e8141c"/>
<circle cx="159.60" cy="220.92" r="1.10" fill="#e8141c"/>
<circle cx="214.77" cy="185.72" r="1.10" fill="#e8141c"/>
<circle cx="209.52" cy="214.88" r="1.10" fill="#e8141c"/>
<circle cx="127.54" cy="200.17" r="1.10" fill="#1a1aff"/>
<circle cx="129.38" cy="219.09" r="1.10" fill="#1a1aff"/>
<circle cx="237.10" cy="109.10" r="1.10" fill="#e8141c"/>
<circle cx="215.60" cy="108.30" r="1.00" fill="#e8141c"/>
<text x="219.80" y="109.80" font-size="4.3" text-anchor="start" stroke="#111" stroke-width="0.13" fill="#111" font-family="Liberation Sans, sans-serif">Up</text>
<circle cx="215.60" cy="113.60" r="1.00" fill="#1a1aff"/>
<text x="219.80" y="115.10" font-size="4.3" text-anchor="start" stroke="#111" stroke-width="0.13" fill="#111" font-family="Liberation Sans, sans-serif">Down</text>
<circle cx="215.60" cy="118.90" r="1.00" fill="#000"/>
<text x="219.80" y="120.40" font-size="4.3" text-anchor="start" stroke="#111" stroke-width="0.13" fill="#111" font-family="Liberation Sans, sans-serif">non−DEGs</text>
<rect x="423.70" y="140.90" width="12.32" height="9.89" fill="#b2b2d9" stroke="#9a9a9a" stroke-width="0.55"/>
<rect x="436.02" y="140.90" width="12.32" height="9.89" fill="#d22f31" stroke="#9a9a9a" stroke-width="0.55"/>
<rect x="448.33" y="140.90" width="12.32" height="9.89" fill="#e37c7d" stroke="#9a9a9a" stroke-width="0.55"/>
<rect x="460.65" y="140.90" width="12.32" height="9.89" fill="#e37c7d" stroke="#9a9a9a" stroke-width="0.55"/>
<rect x="472.97" y="140.90" width="12.32" height="9.89" fill="#000080" stroke="#9a9a9a" stroke-width="0.55"/>
<rect x="485.28" y="140.90" width="12.32" height="9.89" fill="#0d0d86" stroke="#9a9a9a" stroke-width="0.55"/>
<text x="500.60" y="148.35" font-size="8.2" text-anchor="start" fill="#000" font-family="Liberation Sans, sans-serif">ENSMUSG00000095545_Zfp969</text>
<rect x="423.70" y="150.79" width="12.32" height="9.89" fill="#d53a3c" stroke="#9a9a9a" stroke-width="0.55"/>
<rect x="436.02" y="150.79" width="12.32" height="9.89" fill="#e37c7d" stroke="#9a9a9a" stroke-width="0.55"/>
<rect x="448.33" y="150.79" width="12.32" height="9.89" fill="#d22f31" stroke="#9a9a9a" stroke-width="0.55"/>
<rect x="460.65" y="150.79" width="12.32" height="9.89" fill="#5959ac" stroke="#9a9a9a" stroke-width="0.55"/>
<rect x="472.97" y="150.79" width="12.32" height="9.89" fill="#4c4ca6" stroke="#9a9a9a" stroke-width="0.55"/>
<rect x="485.28" y="150.79" width="12.32" height="9.89" fill="#000080" stroke="#9a9a9a" stroke-width="0.55"/>
<text x="500.60" y="158.24" font-size="8.2" text-anchor="start" fill="#000" font-family="Liberation Sans, sans-serif">ENSMUSG00000026308_Klhl30</text>
<rect x="423.70" y="160.68" width="12.32" height="9.89" fill="#d22f31" stroke="#9a9a9a" stroke-width="0.55"/>
<rect x="436.02" y="160.68" width="12.32" height="9.89" fill="#e58788" stroke="#9a9a9a" stroke-width="0.55"/>
<rect x="448.33" y="160.68" width="12.32" height="9.89" fill="#f1bdbe" stroke="#9a9a9a" stroke-width="0.55"/>
<rect x="460.65" y="160.68" width="12.32" height="9.89" fill="#5959ac" stroke="#9a9a9a" stroke-width="0.55"/>
<rect x="472.97" y="160.68" width="12.32" height="9.89" fill="#a6a6d3" stroke="#9a9a9a" stroke-width="0.55"/>
<rect x="485.28" y="160.68" width="12.32" height="9.89" fill="#000080" stroke="#9a9a9a" stroke-width="0.55"/>
<text x="500.60" y="168.13" font-size="8.2" text-anchor="start" fill="#000" font-family="Liberation Sans, sans-serif">ENSMUSG00000030409_Dmpk</text>
<rect x="423.70" y="170.58" width="12.32" height="9.89" fill="#4c4ca6" stroke="#9a9a9a" stroke-width="0.55"/>
<rect x="436.02" y="170.58" width="12.32" height="9.89" fill="#4747a4" stroke="#9a9a9a" stroke-width="0.55"/>
<rect x="448.33" y="170.58" width="12.32" height="9.89" fill="#4c4ca6" stroke="#9a9a9a" stroke-width="0.55"/>
<rect x="460.65" y="170.58" width="12.32" height="9.89" fill="#f7f7fb" stroke="#9a9a9a" stroke-width="0.55"/>
<rect x="472.97" y="170.58" width="12.32" height="9.89" fill="#d1282a" stroke="#9a9a9a" stroke-width="0.55"/>
<rect x="485.28" y="170.58" width="12.32" height="9.89" fill="#efb2b3" stroke="#9a9a9a" stroke-width="0.55"/>
<text x="500.60" y="178.02" font-size="8.2" text-anchor="start" fill="#000" font-family="Liberation Sans, sans-serif">novel.6781_novel.6781</text>
<rect x="423.70" y="180.47" width="12.32" height="9.89" fill="#000080" stroke="#9a9a9a" stroke-width="0.55"/>
<rect x="436.02" y="180.47" width="12.32" height="9.89" fill="#5959ac" stroke="#9a9a9a" stroke-width="0.55"/>
<rect x="448.33" y="180.47" width="12.32" height="9.89" fill="#38389c" stroke="#9a9a9a" stroke-width="0.55"/>
<rect x="460.65" y="180.47" width="12.32" height="9.89" fill="#f1bdbe" stroke="#9a9a9a" stroke-width="0.55"/>
<rect x="472.97" y="180.47" width="12.32" height="9.89" fill="#d74547" stroke="#9a9a9a" stroke-width="0.55"/>
<rect x="485.28" y="180.47" width="12.32" height="9.89" fill="#d02426" stroke="#9a9a9a" stroke-width="0.55"/>
<text x="500.60" y="187.92" font-size="8.2" text-anchor="start" fill="#000" font-family="Liberation Sans, sans-serif">ENSMUSG00000026822_Lcn2</text>
<rect x="423.70" y="190.36" width="12.32" height="9.89" fill="#000080" stroke="#9a9a9a" stroke-width="0.55"/>
<rect x="436.02" y="190.36" width="12.32" height="9.89" fill="#6666b3" stroke="#9a9a9a" stroke-width="0.55"/>
<rect x="448.33" y="190.36" width="12.32" height="9.89" fill="#4747a4" stroke="#9a9a9a" stroke-width="0.55"/>
<rect x="460.65" y="190.36" width="12.32" height="9.89" fill="#cccce6" stroke="#9a9a9a" stroke-width="0.55"/>
<rect x="472.97" y="190.36" width="12.32" height="9.89" fill="#d02426" stroke="#9a9a9a" stroke-width="0.55"/>
<rect x="485.28" y="190.36" width="12.32" height="9.89" fill="#d02426" stroke="#9a9a9a" stroke-width="0.55"/>
<text x="500.60" y="197.81" font-size="8.2" text-anchor="start" fill="#000" font-family="Liberation Sans, sans-serif">ENSMUSG00000052276_Ostn</text>
<rect x="423.70" y="200.25" width="12.32" height="9.89" fill="#000080" stroke="#9a9a9a" stroke-width="0.55"/>
<rect x="436.02" y="200.25" width="12.32" height="9.89" fill="#6b6bb5" stroke="#9a9a9a" stroke-width="0.55"/>
<rect x="448.33" y="200.25" width="12.32" height="9.89" fill="#4c4ca6" stroke="#9a9a9a" stroke-width="0.55"/>
<rect x="460.65" y="200.25" width="12.32" height="9.89" fill="#e0e0f0" stroke="#9a9a9a" stroke-width="0.55"/>
<rect x="472.97" y="200.25" width="12.32" height="9.89" fill="#d02426" stroke="#9a9a9a" stroke-width="0.55"/>
<rect x="485.28" y="200.25" width="12.32" height="9.89" fill="#d02426" stroke="#9a9a9a" stroke-width="0.55"/>
<text x="500.60" y="207.70" font-size="8.2" text-anchor="start" fill="#000" font-family="Liberation Sans, sans-serif">ENSMUSG00000033207_Mamdc2</text>
<rect x="423.70" y="210.15" width="12.32" height="9.89" fill="#000080" stroke="#9a9a9a" stroke-width="0.55"/>
<rect x="436.02" y="210.15" width="12.32" height="9.89" fill="#6e6eb7" stroke="#9a9a9a" stroke-width="0.55"/>
<rect x="448.33" y="210.15" width="12.32" height="9.89" fill="#5959ac" stroke="#9a9a9a" stroke-width="0.55"/>
<rect x="460.65" y="210.15" width="12.32" height="9.89" fill="#cccce6" stroke="#9a9a9a" stroke-width="0.55"/>
<rect x="472.97" y="210.15" width="12.32" height="9.89" fill="#d02426" stroke="#9a9a9a" stroke-width="0.55"/>
<rect x="485.28" y="210.15" width="12.32" height="9.89" fill="#d02426" stroke="#9a9a9a" stroke-width="0.55"/>
<text x="500.60" y="217.59" font-size="8.2" text-anchor="start" fill="#000" font-family="Liberation Sans, sans-serif">ENSMUSG00000028972_Car6</text>
<rect x="423.70" y="220.04" width="12.32" height="9.89" fill="#4747a4" stroke="#9a9a9a" stroke-width="0.55"/>
<rect x="436.02" y="220.04" width="12.32" height="9.89" fill="#1a1a8d" stroke="#9a9a9a" stroke-width="0.55"/>
<rect x="448.33" y="220.04" width="12.32" height="9.89" fill="#2e2e97" stroke="#9a9a9a" stroke-width="0.55"/>
<rect x="460.65" y="220.04" width="12.32" height="9.89" fill="#fef8f8" stroke="#9a9a9a" stroke-width="0.55"/>
<rect x="472.97" y="220.04" width="12.32" height="9.89" fill="#d02426" stroke="#9a9a9a" stroke-width="0.55"/>
<rect x="485.28" y="220.04" width="12.32" height="9.89" fill="#d22f31" stroke="#9a9a9a" stroke-width="0.55"/>
<text x="500.60" y="227.48" font-size="8.2" text-anchor="start" fill="#000" font-family="Liberation Sans, sans-serif">ENSMUSG00000037086_Prr32</text>
<rect x="423.70" y="229.93" width="12.32" height="9.89" fill="#262693" stroke="#9a9a9a" stroke-width="0.55"/>
<rect x="436.02" y="229.93" width="12.32" height="9.89" fill="#6666b3" stroke="#9a9a9a" stroke-width="0.55"/>
<rect x="448.33" y="229.93" width="12.32" height="9.89" fill="#000080" stroke="#9a9a9a" stroke-width="0.55"/>
<rect x="460.65" y="229.93" width="12.32" height="9.89" fill="#f1bdbe" stroke="#9a9a9a" stroke-width="0.55"/>
<rect x="472.97" y="229.93" width="12.32" height="9.89" fill="#d02426" stroke="#9a9a9a" stroke-width="0.55"/>
<rect x="485.28" y="229.93" width="12.32" height="9.89" fill="#d63e40" stroke="#9a9a9a" stroke-width="0.55"/>
<text x="500.60" y="237.38" font-size="8.2" text-anchor="start" fill="#000" font-family="Liberation Sans, sans-serif">ENSMUSG00000041112_Elmo1</text>
<rect x="423.70" y="239.82" width="12.32" height="9.89" fill="#5959ac" stroke="#9a9a9a" stroke-width="0.55"/>
<rect x="436.02" y="239.82" width="12.32" height="9.89" fill="#5454aa" stroke="#9a9a9a" stroke-width="0.55"/>
<rect x="448.33" y="239.82" width="12.32" height="9.89" fill="#5454aa" stroke="#9a9a9a" stroke-width="0.55"/>
<rect x="460.65" y="239.82" width="12.32" height="9.89" fill="#d02426" stroke="#9a9a9a" stroke-width="0.55"/>
<rect x="472.97" y="239.82" width="12.32" height="9.89" fill="#b8b8db" stroke="#9a9a9a" stroke-width="0.55"/>
<rect x="485.28" y="239.82" width="12.32" height="9.89" fill="#f4cacb" stroke="#9a9a9a" stroke-width="0.55"/>
<text x="500.60" y="247.27" font-size="8.2" text-anchor="start" fill="#000" font-family="Liberation Sans, sans-serif">novel.5616_novel.5616</text>
<rect x="423.70" y="249.72" width="12.32" height="9.89" fill="#242492" stroke="#9a9a9a" stroke-width="0.55"/>
<rect x="436.02" y="249.72" width="12.32" height="9.89" fill="#1f1f8f" stroke="#9a9a9a" stroke-width="0.55"/>
<rect x="448.33" y="249.72" width="12.32" height="9.89" fill="#242492" stroke="#9a9a9a" stroke-width="0.55"/>
<rect x="460.65" y="249.72" width="12.32" height="9.89" fill="#d02426" stroke="#9a9a9a" stroke-width="0.55"/>
<rect x="472.97" y="249.72" width="12.32" height="9.89" fill="#d02426" stroke="#9a9a9a" stroke-width="0.55"/>
<rect x="485.28" y="249.72" width="12.32" height="9.89" fill="#f6d5d6" stroke="#9a9a9a" stroke-width="0.55"/>
<text x="500.60" y="257.16" font-size="8.2" text-anchor="start" fill="#000" font-family="Liberation Sans, sans-serif">novel.10399_novel.10399</text>
<rect x="423.70" y="259.61" width="12.32" height="9.89" fill="#000080" stroke="#9a9a9a" stroke-width="0.55"/>
<rect x="436.02" y="259.61" width="12.32" height="9.89" fill="#1f1f8f" stroke="#9a9a9a" stroke-width="0.55"/>
<rect x="448.33" y="259.61" width="12.32" height="9.89" fill="#292994" stroke="#9a9a9a" stroke-width="0.55"/>
<rect x="460.65" y="259.61" width="12.32" height="9.89" fill="#d02426" stroke="#9a9a9a" stroke-width="0.55"/>
<rect x="472.97" y="259.61" width="12.32" height="9.89" fill="#e89292" stroke="#9a9a9a" stroke-width="0.55"/>
<rect x="485.28" y="259.61" width="12.32" height="9.89" fill="#d53a3c" stroke="#9a9a9a" stroke-width="0.55"/>
<text x="500.60" y="267.05" font-size="8.2" text-anchor="start" fill="#000" font-family="Liberation Sans, sans-serif">ENSMUSG00000040026_Saa3</text>
<path d="M442.18 140.50L442.18 135.42M454.49 140.50L454.49 135.42M442.18 135.42L454.49 135.42M429.86 140.50L429.86 128.47M448.33 135.42L448.33 128.47M429.86 128.47L448.33 128.47M479.12 140.50L479.12 126.49M491.44 140.50L491.44 126.49M479.12 126.49L491.44 126.49M466.81 140.50L466.81 112.34M485.28 126.49L485.28 112.34M466.81 112.34L485.28 112.34M439.10 128.47L439.10 97.45M476.05 112.34L476.05 97.45M439.10 97.45L476.05 97.45M423.30 155.74L413.94 155.74M423.30 165.63L413.94 165.63M413.94 155.74L413.94 165.63M423.30 145.85L398.40 145.85M413.94 160.68L398.40 160.68M398.40 145.85L398.40 160.68M423.30 205.20L421.97 205.20M423.30 215.09L421.97 215.09M421.97 205.20L421.97 215.09M423.30 195.31L419.75 195.31M421.97 210.15L419.75 210.15M419.75 195.31L419.75 210.15M423.30 224.98L419.06 224.98M423.30 234.88L419.06 234.88M419.06 224.98L419.06 234.88M419.75 202.73L416.50 202.73M419.06 229.93L416.50 229.93M416.50 202.73L416.50 229.93M423.30 185.42L414.62 185.42M416.50 216.33L414.62 216.33M414.62 185.42L414.62 216.33M423.30 175.52L408.65 175.52M414.62 200.87L408.65 200.87M408.65 175.52L408.65 200.87M423.30 254.66L412.92 254.66M423.30 264.55L412.92 264.55M412.92 254.66L412.92 264.55M423.30 244.77L405.74 244.77M412.92 259.61L405.74 259.61M405.74 244.77L405.74 259.61M408.65 188.20L395.50 188.20M405.74 252.19L395.50 252.19M395.50 188.20L395.50 252.19M398.40 153.27L379.78 153.27M395.50 220.19L379.78 220.19M379.78 153.27L379.78 220.19" stroke="#2a2a2a" stroke-width="0.85" fill="none" stroke-linecap="square"/>
<line x1="424.20" y1="272.20" x2="459.10" y2="272.20" stroke="#555" stroke-width="1.0"/>
<line x1="462.00" y1="272.20" x2="497.20" y2="272.20" stroke="#555" stroke-width="1.0"/>
<text x="441.50" y="282.00" font-size="8.7" text-anchor="middle" fill="#000" font-family="Liberation Sans, sans-serif">Control</text>
<text x="480.00" y="282.00" font-size="8.7" text-anchor="middle" fill="#000" font-family="Liberation Sans, sans-serif">gastrodin</text>
<ellipse cx="612.9" cy="204.9" rx="20.2" ry="5.5" fill="none" stroke="#dd1010" stroke-width="1.25"/>
<defs><linearGradient id="hg" x1="0" y1="0" x2="0" y2="1"><stop offset="0" stop-color="#d42628"/><stop offset="0.5" stop-color="#fff"/><stop offset="1" stop-color="#000080"/></linearGradient><linearGradient id="qg" x1="0" y1="0" x2="0" y2="1"><stop offset="0" stop-color="#2bf58a"/><stop offset="0.2" stop-color="#8cd672"/><stop offset="0.4" stop-color="#b5b65b"/><stop offset="0.6" stop-color="#cf9445"/><stop offset="0.8" stop-color="#e26b30"/><stop offset="1" stop-color="#f02a1c"/></linearGradient></defs>
<rect x="634.30" y="140.50" width="7.40" height="124.60" fill="url(#hg)"/>
<text x="645.60" y="143.80" font-size="8.0" text-anchor="start" fill="#000" font-family="Liberation Sans, sans-serif">1</text>
<text x="645.60" y="175.00" font-size="8.0" text-anchor="start" fill="#000" font-family="Liberation Sans, sans-serif">0.5</text>
<text x="645.60" y="205.80" font-size="8.0" text-anchor="start" fill="#000" font-family="Liberation Sans, sans-serif">0</text>
<text x="645.60" y="236.80" font-size="8.0" text-anchor="start" fill="#000" font-family="Liberation Sans, sans-serif">-0.5</text>
<text x="645.60" y="267.80" font-size="8.0" text-anchor="start" fill="#000" font-family="Liberation Sans, sans-serif">-1</text>
<text x="247.00" y="335.90" font-size="8.77" text-anchor="middle" fill="#000" font-family="Liberation Sans, sans-serif">Control-vs-gastrodin GO bar plot</text>
<rect x="164.30" y="340.60" width="162.40" height="210.20" fill="#fff"/>
<line x1="209.39" y1="340.60" x2="209.39" y2="550.80" stroke="#dadada" stroke-width="0.6"/>
<line x1="262.55" y1="340.60" x2="262.55" y2="550.80" stroke="#dadada" stroke-width="0.6"/>
<line x1="290.07" y1="340.60" x2="290.07" y2="550.80" stroke="#dadada" stroke-width="0.6"/>
<line x1="312.09" y1="340.60" x2="312.09" y2="550.80" stroke="#dadada" stroke-width="0.6"/>
<line x1="171.80" y1="340.60" x2="171.80" y2="550.80" stroke="#c4c4c4" stroke-width="0.75"/>
<line x1="246.98" y1="340.60" x2="246.98" y2="550.80" stroke="#c4c4c4" stroke-width="0.75"/>
<line x1="278.13" y1="340.60" x2="278.13" y2="550.80" stroke="#c4c4c4" stroke-width="0.75"/>
<line x1="302.02" y1="340.60" x2="302.02" y2="550.80" stroke="#c4c4c4" stroke-width="0.75"/>
<line x1="322.17" y1="340.60" x2="322.17" y2="550.80" stroke="#c4c4c4" stroke-width="0.75"/>
<line x1="164.30" y1="345.90" x2="326.70" y2="345.90" stroke="#cfcfcf" stroke-width="0.65"/>
<line x1="164.30" y1="355.40" x2="326.70" y2="355.40" stroke="#cfcfcf" stroke-width="0.65"/>
<line x1="164.30" y1="364.90" x2="326.70" y2="364.90" stroke="#cfcfcf" stroke-width="0.65"/>
<line x1="164.30" y1="374.40" x2="326.70" y2="374.40" stroke="#cfcfcf" stroke-width="0.65"/>
<line x1="164.30" y1="383.90" x2="326.70" y2="383.90" stroke="#cfcfcf" stroke-width="0.65"/>
<line x1="164.30" y1="393.40" x2="326.70" y2="393.40" stroke="#cfcfcf" stroke-width="0.65"/>
<line x1="164.30" y1="402.90" x2="326.70" y2="402.90" stroke="#cfcfcf" stroke-width="0.65"/>
<line x1="164.30" y1="412.40" x2="326.70" y2="412.40" stroke="#cfcfcf" stroke-width="0.65"/>
<line x1="164.30" y1="421.90" x2="326.70" y2="421.90" stroke="#cfcfcf" stroke-width="0.65"/>
<line x1="164.30" y1="431.40" x2="326.70" y2="431.40" stroke="#cfcfcf" stroke-width="0.65"/>
<line x1="164.30" y1="440.90" x2="326.70" y2="440.90" stroke="#cfcfcf" stroke-width="0.65"/>
<line x1="164.30" y1="450.40" x2="326.70" y2="450.40" stroke="#cfcfcf" stroke-width="0.65"/>
<line x1="164.30" y1="459.90" x2="326.70" y2="459.90" stroke="#cfcfcf" stroke-width="0.65"/>
<line x1="164.30" y1="469.40" x2="326.70" y2="469.40" stroke="#cfcfcf" stroke-width="0.65"/>
<line x1="164.30" y1="478.90" x2="326.70" y2="478.90" stroke="#cfcfcf" stroke-width="0.65"/>
<line x1="164.30" y1="488.40" x2="326.70" y2="488.40" stroke="#cfcfcf" stroke-width="0.65"/>
<line x1="164.30" y1="497.90" x2="326.70" y2="497.90" stroke="#cfcfcf" stroke-width="0.65"/>
<line x1="164.30" y1="507.40" x2="326.70" y2="507.40" stroke="#cfcfcf" stroke-width="0.65"/>
<line x1="164.30" y1="516.90" x2="326.70" y2="516.90" stroke="#cfcfcf" stroke-width="0.65"/>
<line x1="164.30" y1="526.40" x2="326.70" y2="526.40" stroke="#cfcfcf" stroke-width="0.65"/>
<line x1="164.30" y1="535.90" x2="326.70" y2="535.90" stroke="#cfcfcf" stroke-width="0.65"/>
<line x1="164.30" y1="545.40" x2="326.70" y2="545.40" stroke="#cfcfcf" stroke-width="0.65"/>
<rect x="171.80" y="342.20" width="134.49" height="7.40" fill="#E41A1C"/>
<text x="307.29" y="347.10" font-size="3.4" text-anchor="start" stroke="#333" stroke-width="0.13" fill="#333" font-family="Liberation Sans, sans-serif">8</text>
<line x1="162.90" y1="345.90" x2="164.30" y2="345.90" stroke="#222" stroke-width="0.6"/>
<text x="162.20" y="347.60" font-size="4.92" text-anchor="end" stroke="#1a1a1a" stroke-width="0.13" fill="#1a1a1a" font-family="Liberation Sans, sans-serif">cellular process</text>
<rect x="171.80" y="351.70" width="116.47" height="7.40" fill="#E41A1C"/>
<text x="289.27" y="356.60" font-size="3.4" text-anchor="start" stroke="#333" stroke-width="0.13" fill="#333" font-family="Liberation Sans, sans-serif">6</text>
<line x1="162.90" y1="355.40" x2="164.30" y2="355.40" stroke="#222" stroke-width="0.6"/>
<text x="162.20" y="357.10" font-size="4.92" text-anchor="end" stroke="#1a1a1a" stroke-width="0.13" fill="#1a1a1a" font-family="Liberation Sans, sans-serif">metabolic process</text>
<rect x="171.80" y="361.20" width="116.47" height="7.40" fill="#E41A1C"/>
<text x="289.27" y="366.10" font-size="3.4" text-anchor="start" stroke="#333" stroke-width="0.13" fill="#333" font-family="Liberation Sans, sans-serif">6</text>
<line x1="162.90" y1="364.90" x2="164.30" y2="364.90" stroke="#222" stroke-width="0.6"/>
<text x="162.20" y="366.60" font-size="4.92" text-anchor="end" stroke="#1a1a1a" stroke-width="0.13" fill="#1a1a1a" font-family="Liberation Sans, sans-serif">biological regulation</text>
<rect x="171.80" y="370.70" width="116.47" height="7.40" fill="#E41A1C"/>
<text x="289.27" y="375.60" font-size="3.4" text-anchor="start" stroke="#333" stroke-width="0.13" fill="#333" font-family="Liberation Sans, sans-serif">6</text>
<line x1="162.90" y1="374.40" x2="164.30" y2="374.40" stroke="#222" stroke-width="0.6"/>
<text x="162.20" y="376.10" font-size="4.92" text-anchor="end" stroke="#1a1a1a" stroke-width="0.13" fill="#1a1a1a" font-family="Liberation Sans, sans-serif">regulation of biological process</text>
<rect x="171.80" y="380.20" width="116.47" height="7.40" fill="#E41A1C"/>
<text x="289.27" y="385.10" font-size="3.4" text-anchor="start" stroke="#333" stroke-width="0.13" fill="#333" font-family="Liberation Sans, sans-serif">6</text>
<line x1="162.90" y1="383.90" x2="164.30" y2="383.90" stroke="#222" stroke-width="0.6"/>
<text x="162.20" y="385.60" font-size="4.92" text-anchor="end" stroke="#1a1a1a" stroke-width="0.13" fill="#1a1a1a" font-family="Liberation Sans, sans-serif">response to stimulus</text>
<rect x="171.80" y="389.70" width="106.33" height="7.40" fill="#E41A1C"/>
<text x="279.13" y="394.60" font-size="3.4" text-anchor="start" stroke="#333" stroke-width="0.13" fill="#333" font-family="Liberation Sans, sans-serif">5</text>
<line x1="162.90" y1="393.40" x2="164.30" y2="393.40" stroke="#222" stroke-width="0.6"/>
<text x="162.20" y="395.10" font-size="4.92" text-anchor="end" stroke="#1a1a1a" stroke-width="0.13" fill="#1a1a1a" font-family="Liberation Sans, sans-serif">localization</text>
<rect x="171.80" y="399.20" width="106.33" height="7.40" fill="#E41A1C"/>
<text x="279.13" y="404.10" font-size="3.4" text-anchor="start" stroke="#333" stroke-width="0.13" fill="#333" font-family="Liberation Sans, sans-serif">5</text>
<line x1="162.90" y1="402.90" x2="164.30" y2="402.90" stroke="#222" stroke-width="0.6"/>
<text x="162.20" y="404.60" font-size="4.92" text-anchor="end" stroke="#1a1a1a" stroke-width="0.13" fill="#1a1a1a" font-family="Liberation Sans, sans-serif">signaling</text>
<rect x="171.80" y="408.70" width="95.10" height="7.40" fill="#E41A1C"/>
<text x="267.90" y="413.60" font-size="3.4" text-anchor="start" stroke="#333" stroke-width="0.13" fill="#333" font-family="Liberation Sans, sans-serif">4</text>
<line x1="162.90" y1="412.40" x2="164.30" y2="412.40" stroke="#222" stroke-width="0.6"/>
<text x="162.20" y="414.10" font-size="4.92" text-anchor="end" stroke="#1a1a1a" stroke-width="0.13" fill="#1a1a1a" font-family="Liberation Sans, sans-serif">multicellular organismal process</text>
<rect x="171.80" y="418.20" width="67.25" height="7.40" fill="#E41A1C"/>
<text x="240.05" y="423.10" font-size="3.4" text-anchor="start" stroke="#333" stroke-width="0.13" fill="#333" font-family="Liberation Sans, sans-serif">2</text>
<line x1="162.90" y1="421.90" x2="164.30" y2="421.90" stroke="#222" stroke-width="0.6"/>
<text x="162.20" y="423.60" font-size="4.92" text-anchor="end" stroke="#1a1a1a" stroke-width="0.13" fill="#1a1a1a" font-family="Liberation Sans, sans-serif">negative regulation of biological process</text>
<rect x="171.80" y="427.70" width="67.25" height="7.40" fill="#E41A1C"/>
<text x="240.05" y="432.60" font-size="3.4" text-anchor="start" stroke="#333" stroke-width="0.13" fill="#333" font-family="Liberation Sans, sans-serif">2</text>
<line x1="162.90" y1="431.40" x2="164.30" y2="431.40" stroke="#222" stroke-width="0.6"/>
<text x="162.20" y="433.10" font-size="4.92" text-anchor="end" stroke="#1a1a1a" stroke-width="0.13" fill="#1a1a1a" font-family="Liberation Sans, sans-serif">biological process involved in interspecies interaction between organisms</text>
<rect x="171.80" y="437.20" width="67.25" height="7.40" fill="#E41A1C"/>
<text x="240.05" y="442.10" font-size="3.4" text-anchor="start" stroke="#333" stroke-width="0.13" fill="#333" font-family="Liberation Sans, sans-serif">2</text>
<line x1="162.90" y1="440.90" x2="164.30" y2="440.90" stroke="#222" stroke-width="0.6"/>
<text x="162.20" y="442.60" font-size="4.92" text-anchor="end" stroke="#1a1a1a" stroke-width="0.13" fill="#1a1a1a" font-family="Liberation Sans, sans-serif">locomotion</text>
<rect x="171.80" y="446.70" width="67.25" height="7.40" fill="#E41A1C"/>
<text x="240.05" y="451.60" font-size="3.4" text-anchor="start" stroke="#333" stroke-width="0.13" fill="#333" font-family="Liberation Sans, sans-serif">2</text>
<line x1="162.90" y1="450.40" x2="164.30" y2="450.40" stroke="#222" stroke-width="0.6"/>
<text x="162.20" y="452.10" font-size="4.92" text-anchor="end" stroke="#1a1a1a" stroke-width="0.13" fill="#1a1a1a" font-family="Liberation Sans, sans-serif">developmental process</text>
<rect x="171.80" y="456.20" width="47.55" height="7.40" fill="#E41A1C"/>
<text x="220.35" y="461.10" font-size="3.4" text-anchor="start" stroke="#333" stroke-width="0.13" fill="#333" font-family="Liberation Sans, sans-serif">1</text>
<line x1="162.90" y1="459.90" x2="164.30" y2="459.90" stroke="#222" stroke-width="0.6"/>
<text x="162.20" y="461.60" font-size="4.92" text-anchor="end" stroke="#1a1a1a" stroke-width="0.13" fill="#1a1a1a" font-family="Liberation Sans, sans-serif">positive regulation of biological process</text>
<rect x="171.80" y="465.70" width="47.55" height="7.40" fill="#E41A1C"/>
<text x="220.35" y="470.60" font-size="3.4" text-anchor="start" stroke="#333" stroke-width="0.13" fill="#333" font-family="Liberation Sans, sans-serif">1</text>
<line x1="162.90" y1="469.40" x2="164.30" y2="469.40" stroke="#222" stroke-width="0.6"/>
<text x="162.20" y="471.10" font-size="4.92" text-anchor="end" stroke="#1a1a1a" stroke-width="0.13" fill="#1a1a1a" font-family="Liberation Sans, sans-serif">immune system process</text>
<rect x="171.80" y="475.20" width="47.55" height="7.40" fill="#E41A1C"/>
<text x="220.35" y="480.10" font-size="3.4" text-anchor="start" stroke="#333" stroke-width="0.13" fill="#333" font-family="Liberation Sans, sans-serif">1</text>
<line x1="162.90" y1="478.90" x2="164.30" y2="478.90" stroke="#222" stroke-width="0.6"/>
<text x="162.20" y="480.60" font-size="4.92" text-anchor="end" stroke="#1a1a1a" stroke-width="0.13" fill="#1a1a1a" font-family="Liberation Sans, sans-serif">biomineralization</text>
<rect x="171.80" y="484.70" width="47.55" height="7.40" fill="#E41A1C"/>
<text x="220.35" y="489.60" font-size="3.4" text-anchor="start" stroke="#333" stroke-width="0.13" fill="#333" font-family="Liberation Sans, sans-serif">1</text>
<line x1="162.90" y1="488.40" x2="164.30" y2="488.40" stroke="#222" stroke-width="0.6"/>
<text x="162.20" y="490.10" font-size="4.92" text-anchor="end" stroke="#1a1a1a" stroke-width="0.13" fill="#1a1a1a" font-family="Liberation Sans, sans-serif">growth</text>
<rect x="171.80" y="494.20" width="134.49" height="7.40" fill="#377EB8"/>
<text x="307.29" y="499.10" font-size="3.4" text-anchor="start" stroke="#333" stroke-width="0.13" fill="#333" font-family="Liberation Sans, sans-serif">8</text>
<line x1="162.90" y1="497.90" x2="164.30" y2="497.90" stroke="#222" stroke-width="0.6"/>
<text x="162.20" y="499.60" font-size="4.92" text-anchor="end" stroke="#1a1a1a" stroke-width="0.13" fill="#1a1a1a" font-family="Liberation Sans, sans-serif">cellular anatomical entity</text>
<rect x="171.80" y="503.70" width="67.25" height="7.40" fill="#377EB8"/>
<text x="240.05" y="508.60" font-size="3.4" text-anchor="start" stroke="#333" stroke-width="0.13" fill="#333" font-family="Liberation Sans, sans-serif">2</text>
<line x1="162.90" y1="507.40" x2="164.30" y2="507.40" stroke="#222" stroke-width="0.6"/>
<text x="162.20" y="509.10" font-size="4.92" text-anchor="end" stroke="#1a1a1a" stroke-width="0.13" fill="#1a1a1a" font-family="Liberation Sans, sans-serif">protein-containing complex</text>
<rect x="171.80" y="513.20" width="134.49" height="7.40" fill="#4DAF4A"/>
<text x="307.29" y="518.10" font-size="3.4" text-anchor="start" stroke="#333" stroke-width="0.13" fill="#333" font-family="Liberation Sans, sans-serif">8</text>
<line x1="162.90" y1="516.90" x2="164.30" y2="516.90" stroke="#222" stroke-width="0.6"/>
<text x="162.20" y="518.60" font-size="4.92" text-anchor="end" stroke="#1a1a1a" stroke-width="0.13" fill="#1a1a1a" font-family="Liberation Sans, sans-serif">binding</text>
<rect x="171.80" y="522.70" width="95.10" height="7.40" fill="#4DAF4A"/>
<text x="267.90" y="527.60" font-size="3.4" text-anchor="start" stroke="#333" stroke-width="0.13" fill="#333" font-family="Liberation Sans, sans-serif">4</text>
<line x1="162.90" y1="526.40" x2="164.30" y2="526.40" stroke="#222" stroke-width="0.6"/>
<text x="162.20" y="528.10" font-size="4.92" text-anchor="end" stroke="#1a1a1a" stroke-width="0.13" fill="#1a1a1a" font-family="Liberation Sans, sans-serif">molecular function regulator</text>
<rect x="171.80" y="532.20" width="67.25" height="7.40" fill="#4DAF4A"/>
<text x="240.05" y="537.10" font-size="3.4" text-anchor="start" stroke="#333" stroke-width="0.13" fill="#333" font-family="Liberation Sans, sans-serif">2</text>
<line x1="162.90" y1="535.90" x2="164.30" y2="535.90" stroke="#222" stroke-width="0.6"/>
<text x="162.20" y="537.60" font-size="4.92" text-anchor="end" stroke="#1a1a1a" stroke-width="0.13" fill="#1a1a1a" font-family="Liberation Sans, sans-serif">catalytic activity</text>
<rect x="171.80" y="541.70" width="47.55" height="7.40" fill="#4DAF4A"/>
<text x="220.35" y="546.60" font-size="3.4" text-anchor="start" stroke="#333" stroke-width="0.13" fill="#333" font-family="Liberation Sans, sans-serif">1</text>
<line x1="162.90" y1="545.40" x2="164.30" y2="545.40" stroke="#222" stroke-width="0.6"/>
<text x="162.20" y="547.10" font-size="4.92" text-anchor="end" stroke="#1a1a1a" stroke-width="0.13" fill="#1a1a1a" font-family="Liberation Sans, sans-serif">transcription regulator activity</text>
<rect x="164.30" y="340.60" width="162.40" height="210.20" fill="none" stroke="#707070" stroke-width="0.8"/>
<line x1="171.80" y1="550.80" x2="171.80" y2="552.20" stroke="#222" stroke-width="0.6"/>
<text x="171.80" y="556.70" font-size="4.8" text-anchor="middle" stroke="#333" stroke-width="0.13" fill="#333" font-family="Liberation Sans, sans-serif">0.0</text>
<line x1="246.98" y1="550.80" x2="246.98" y2="552.20" stroke="#222" stroke-width="0.6"/>
<text x="246.98" y="556.70" font-size="4.8" text-anchor="middle" stroke="#333" stroke-width="0.13" fill="#333" font-family="Liberation Sans, sans-serif">2.5</text>
<line x1="278.13" y1="550.80" x2="278.13" y2="552.20" stroke="#222" stroke-width="0.6"/>
<text x="278.13" y="556.70" font-size="4.8" text-anchor="middle" stroke="#333" stroke-width="0.13" fill="#333" font-family="Liberation Sans, sans-serif">5.0</text>
<line x1="302.02" y1="550.80" x2="302.02" y2="552.20" stroke="#222" stroke-width="0.6"/>
<text x="302.02" y="556.70" font-size="4.8" text-anchor="middle" stroke="#333" stroke-width="0.13" fill="#333" font-family="Liberation Sans, sans-serif">7.5</text>
<line x1="322.17" y1="550.80" x2="322.17" y2="552.20" stroke="#222" stroke-width="0.6"/>
<text x="322.17" y="556.70" font-size="4.8" text-anchor="middle" stroke="#333" stroke-width="0.13" fill="#333" font-family="Liberation Sans, sans-serif">10.0</text>
<text x="247.90" y="565.20" font-size="8.73" text-anchor="middle" fill="#000" font-family="Liberation Sans, sans-serif">Number of genes</text>
<rect x="333.10" y="342.70" width="2.10" height="68.30" fill="#E41A1C"/>
<text x="338.30" y="376.85" font-size="5.3" text-anchor="middle" stroke="#111" stroke-width="0.13" fill="#111" font-family="Liberation Sans, sans-serif" transform="rotate(90 338.30 376.85)">Biological Process</text>
<rect x="333.10" y="412.40" width="2.10" height="68.50" fill="#377EB8"/>
<text x="338.30" y="446.65" font-size="5.3" text-anchor="middle" stroke="#111" stroke-width="0.13" fill="#111" font-family="Liberation Sans, sans-serif" transform="rotate(90 338.30 446.65)">Cellular Component</text>
<rect x="333.10" y="482.20" width="2.10" height="68.50" fill="#4DAF4A"/>
<text x="338.30" y="516.45" font-size="5.3" text-anchor="middle" stroke="#111" stroke-width="0.13" fill="#111" font-family="Liberation Sans, sans-serif" transform="rotate(90 338.30 516.45)">Molecular Function</text>
<text x="597.60" y="335.70" font-size="8.78" text-anchor="middle" fill="#000" font-family="Liberation Sans, sans-serif">Control-vs-gastrodin GO enrichment</text>
<rect x="557.40" y="340.30" width="84.90" height="212.00" fill="#fff"/>
<line x1="568.38" y1="340.30" x2="568.38" y2="552.30" stroke="#dcdcdc" stroke-width="0.6"/>
<line x1="583.94" y1="340.30" x2="583.94" y2="552.30" stroke="#dcdcdc" stroke-width="0.6"/>
<line x1="599.50" y1="340.30" x2="599.50" y2="552.30" stroke="#dcdcdc" stroke-width="0.6"/>
<line x1="615.06" y1="340.30" x2="615.06" y2="552.30" stroke="#dcdcdc" stroke-width="0.6"/>
<line x1="630.62" y1="340.30" x2="630.62" y2="552.30" stroke="#dcdcdc" stroke-width="0.6"/>
<line x1="560.60" y1="340.30" x2="560.60" y2="552.30" stroke="#bcbcbc" stroke-width="0.75"/>
<line x1="576.16" y1="340.30" x2="576.16" y2="552.30" stroke="#bcbcbc" stroke-width="0.75"/>
<line x1="591.72" y1="340.30" x2="591.72" y2="552.30" stroke="#bcbcbc" stroke-width="0.75"/>
<line x1="607.28" y1="340.30" x2="607.28" y2="552.30" stroke="#bcbcbc" stroke-width="0.75"/>
<line x1="622.84" y1="340.30" x2="622.84" y2="552.30" stroke="#bcbcbc" stroke-width="0.75"/>
<line x1="638.40" y1="340.30" x2="638.40" y2="552.30" stroke="#bcbcbc" stroke-width="0.75"/>
<line x1="557.40" y1="347.10" x2="642.30" y2="347.10" stroke="#c2c2c2" stroke-width="0.75"/>
<line x1="557.40" y1="357.57" x2="642.30" y2="357.57" stroke="#c2c2c2" stroke-width="0.75"/>
<line x1="557.40" y1="368.04" x2="642.30" y2="368.04" stroke="#c2c2c2" stroke-width="0.75"/>
<line x1="557.40" y1="378.51" x2="642.30" y2="378.51" stroke="#c2c2c2" stroke-width="0.75"/>
<line x1="557.40" y1="388.97" x2="642.30" y2="388.97" stroke="#c2c2c2" stroke-width="0.75"/>
<line x1="557.40" y1="399.44" x2="642.30" y2="399.44" stroke="#c2c2c2" stroke-width="0.75"/>
<line x1="557.40" y1="409.91" x2="642.30" y2="409.91" stroke="#c2c2c2" stroke-width="0.75"/>
<line x1="557.40" y1="420.38" x2="642.30" y2="420.38" stroke="#c2c2c2" stroke-width="0.75"/>
<line x1="557.40" y1="430.85" x2="642.30" y2="430.85" stroke="#c2c2c2" stroke-width="0.75"/>
<line x1="557.40" y1="441.32" x2="642.30" y2="441.32" stroke="#c2c2c2" stroke-width="0.75"/>
<line x1="557.40" y1="451.78" x2="642.30" y2="451.78" stroke="#c2c2c2" stroke-width="0.75"/>
<line x1="557.40" y1="462.25" x2="642.30" y2="462.25" stroke="#c2c2c2" stroke-width="0.75"/>
<line x1="557.40" y1="472.72" x2="642.30" y2="472.72" stroke="#c2c2c2" stroke-width="0.75"/>
<line x1="557.40" y1="483.19" x2="642.30" y2="483.19" stroke="#c2c2c2" stroke-width="0.75"/>
<line x1="557.40" y1="493.66" x2="642.30" y2="493.66" stroke="#c2c2c2" stroke-width="0.75"/>
<line x1="557.40" y1="504.13" x2="642.30" y2="504.13" stroke="#c2c2c2" stroke-width="0.75"/>
<line x1="557.40" y1="514.59" x2="642.30" y2="514.59" stroke="#c2c2c2" stroke-width="0.75"/>
<line x1="557.40" y1="525.06" x2="642.30" y2="525.06" stroke="#c2c2c2" stroke-width="0.75"/>
<line x1="557.40" y1="535.53" x2="642.30" y2="535.53" stroke="#c2c2c2" stroke-width="0.75"/>
<line x1="557.40" y1="546.00" x2="642.30" y2="546.00" stroke="#c2c2c2" stroke-width="0.75"/>
<circle cx="572.43" cy="347.10" r="0.95" fill="#33ee88"/>
<line x1="556.10" y1="347.10" x2="557.40" y2="347.10" stroke="#222" stroke-width="0.6"/>
<text x="555.00" y="348.65" font-size="4.79" text-anchor="end" font-weight="bold" stroke="#000" stroke-width="0.13" fill="#000" font-family="Liberation Serif, serif">sequestering of iron ion</text>
<circle cx="571.49" cy="357.57" r="0.95" fill="#33ee88"/>
<line x1="556.10" y1="357.57" x2="557.40" y2="357.57" stroke="#222" stroke-width="0.6"/>
<text x="555.00" y="359.12" font-size="4.79" text-anchor="end" font-weight="bold" stroke="#000" stroke-width="0.13" fill="#000" font-family="Liberation Serif, serif">response to herbicide</text>
<circle cx="577.72" cy="368.04" r="0.95" fill="#33ee88"/>
<line x1="556.10" y1="368.04" x2="557.40" y2="368.04" stroke="#222" stroke-width="0.6"/>
<text x="555.00" y="369.59" font-size="4.79" text-anchor="end" font-weight="bold" stroke="#000" stroke-width="0.13" fill="#000" font-family="Liberation Serif, serif">regulation of synapse structural plasticity</text>
<circle cx="572.43" cy="378.51" r="0.95" fill="#33ee88"/>
<line x1="556.10" y1="378.51" x2="557.40" y2="378.51" stroke="#222" stroke-width="0.6"/>
<text x="555.00" y="380.06" font-size="4.79" text-anchor="end" font-weight="bold" stroke="#000" stroke-width="0.13" fill="#000" font-family="Liberation Serif, serif">regulation of skeletal muscle contraction</text>
<circle cx="579.74" cy="388.97" r="0.95" fill="#33ee88"/>
<line x1="556.10" y1="388.97" x2="557.40" y2="388.97" stroke="#222" stroke-width="0.6"/>
<text x="555.00" y="390.52" font-size="4.79" text-anchor="end" font-weight="bold" stroke="#000" stroke-width="0.13" fill="#000" font-family="Liberation Serif, serif">peptide cross-linking via chondroitin 4-sulfate glycosaminoglycan</text>
<circle cx="570.40" cy="399.44" r="0.95" fill="#33ee88"/>
<line x1="556.10" y1="399.44" x2="557.40" y2="399.44" stroke="#222" stroke-width="0.6"/>
<text x="555.00" y="400.99" font-size="4.79" text-anchor="end" font-weight="bold" stroke="#000" stroke-width="0.13" fill="#000" font-family="Liberation Serif, serif">negative regulation of glucose import</text>
<circle cx="574.60" cy="409.91" r="0.95" fill="#33ee88"/>
<line x1="556.10" y1="409.91" x2="557.40" y2="409.91" stroke="#222" stroke-width="0.6"/>
<text x="555.00" y="411.46" font-size="4.79" text-anchor="end" font-weight="bold" stroke="#000" stroke-width="0.13" fill="#000" font-family="Liberation Serif, serif">iron coordination entity transport</text>
<circle cx="570.40" cy="420.38" r="0.95" fill="#33ee88"/>
<line x1="556.10" y1="420.38" x2="557.40" y2="420.38" stroke="#222" stroke-width="0.6"/>
<text x="555.00" y="421.93" font-size="4.79" text-anchor="end" font-weight="bold" stroke="#000" stroke-width="0.13" fill="#000" font-family="Liberation Serif, serif">interstitial matrix</text>
<circle cx="571.49" cy="430.85" r="0.95" fill="#33ee88"/>
<line x1="556.10" y1="430.85" x2="557.40" y2="430.85" stroke="#222" stroke-width="0.6"/>
<text x="555.00" y="432.40" font-size="4.79" text-anchor="end" font-weight="bold" stroke="#000" stroke-width="0.13" fill="#000" font-family="Liberation Serif, serif">I-kappaB phosphorylation</text>
<circle cx="560.60" cy="441.32" r="3.10" fill="#33ee88"/>
<line x1="556.10" y1="441.32" x2="557.40" y2="441.32" stroke="#222" stroke-width="0.6"/>
<text x="555.00" y="442.87" font-size="4.79" text-anchor="end" font-weight="bold" stroke="#000" stroke-width="0.13" fill="#000" font-family="Liberation Serif, serif">extracellular space</text>
<circle cx="570.40" cy="451.78" r="0.95" fill="#33ee88"/>
<line x1="556.10" y1="451.78" x2="557.40" y2="451.78" stroke="#222" stroke-width="0.6"/>
<text x="555.00" y="453.33" font-size="4.79" text-anchor="end" font-weight="bold" stroke="#000" stroke-width="0.13" fill="#000" font-family="Liberation Serif, serif">carbonate dehydratase activity</text>
<circle cx="560.60" cy="462.25" r="3.10" fill="#33ee88"/>
<line x1="556.10" y1="462.25" x2="557.40" y2="462.25" stroke="#222" stroke-width="0.6"/>
<text x="555.00" y="463.80" font-size="4.79" text-anchor="end" font-weight="bold" stroke="#000" stroke-width="0.13" fill="#000" font-family="Liberation Serif, serif">extracellular region</text>
<circle cx="599.34" cy="472.72" r="0.85" fill="#cc9933"/>
<line x1="556.10" y1="472.72" x2="557.40" y2="472.72" stroke="#222" stroke-width="0.6"/>
<text x="555.00" y="474.27" font-size="4.79" text-anchor="end" font-weight="bold" stroke="#000" stroke-width="0.13" fill="#000" font-family="Liberation Serif, serif">Toll-like receptor 4 binding</text>
<circle cx="612.10" cy="483.19" r="0.85" fill="#dd8833"/>
<line x1="556.10" y1="483.19" x2="557.40" y2="483.19" stroke="#222" stroke-width="0.6"/>
<text x="555.00" y="484.74" font-size="4.79" text-anchor="end" font-weight="bold" stroke="#000" stroke-width="0.13" fill="#000" font-family="Liberation Serif, serif">negative regulation of dendrite extension</text>
<circle cx="638.40" cy="493.66" r="0.95" fill="#ee3322"/>
<line x1="556.10" y1="493.66" x2="557.40" y2="493.66" stroke="#222" stroke-width="0.6"/>
<text x="555.00" y="495.21" font-size="4.79" text-anchor="end" font-weight="bold" stroke="#000" stroke-width="0.13" fill="#000" font-family="Liberation Serif, serif">siderophore transport</text>
<circle cx="638.40" cy="504.13" r="0.95" fill="#ee3322"/>
<line x1="556.10" y1="504.13" x2="557.40" y2="504.13" stroke="#222" stroke-width="0.6"/>
<text x="555.00" y="505.68" font-size="4.79" text-anchor="end" font-weight="bold" stroke="#000" stroke-width="0.13" fill="#000" font-family="Liberation Serif, serif">regulation of skeletal muscle contraction by neural stimulation via neuromuscular junction</text>
<circle cx="638.40" cy="514.59" r="0.95" fill="#ee3322"/>
<line x1="556.10" y1="514.59" x2="557.40" y2="514.59" stroke="#222" stroke-width="0.6"/>
<text x="555.00" y="516.14" font-size="4.79" text-anchor="end" font-weight="bold" stroke="#000" stroke-width="0.13" fill="#000" font-family="Liberation Serif, serif">regulation of skeletal muscle contraction by calcium ion signaling</text>
<circle cx="638.40" cy="525.06" r="0.95" fill="#ee3322"/>
<line x1="556.10" y1="525.06" x2="557.40" y2="525.06" stroke="#222" stroke-width="0.6"/>
<text x="555.00" y="526.61" font-size="4.79" text-anchor="end" font-weight="bold" stroke="#000" stroke-width="0.13" fill="#000" font-family="Liberation Serif, serif">regulation of excitatory postsynaptic membrane potential involved in skeletal muscle contraction</text>
<circle cx="638.40" cy="535.53" r="0.95" fill="#ee3322"/>
<line x1="556.10" y1="535.53" x2="557.40" y2="535.53" stroke="#222" stroke-width="0.6"/>
<text x="555.00" y="537.08" font-size="4.79" text-anchor="end" font-weight="bold" stroke="#000" stroke-width="0.13" fill="#000" font-family="Liberation Serif, serif">myosin phosphatase regulator activity</text>
<circle cx="638.40" cy="546.00" r="0.95" fill="#ee3322"/>
<line x1="556.10" y1="546.00" x2="557.40" y2="546.00" stroke="#222" stroke-width="0.6"/>
<text x="555.00" y="547.55" font-size="4.79" text-anchor="end" font-weight="bold" stroke="#000" stroke-width="0.13" fill="#000" font-family="Liberation Serif, serif">enterobactin binding</text>
<rect x="557.40" y="340.30" width="84.90" height="212.00" fill="none" stroke="#8c8c8c" stroke-width="0.9"/>
<line x1="560.60" y1="552.30" x2="560.60" y2="553.60" stroke="#222" stroke-width="0.6"/>
<text x="560.60" y="557.70" font-size="5.0" text-anchor="middle" font-weight="bold" stroke="#000" stroke-width="0.13" fill="#000" font-family="Liberation Serif, serif">0.0</text>
<line x1="576.16" y1="552.30" x2="576.16" y2="553.60" stroke="#222" stroke-width="0.6"/>
<text x="576.16" y="557.70" font-size="5.0" text-anchor="middle" font-weight="bold" stroke="#000" stroke-width="0.13" fill="#000" font-family="Liberation Serif, serif">0.1</text>
<line x1="591.72" y1="552.30" x2="591.72" y2="553.60" stroke="#222" stroke-width="0.6"/>
<text x="591.72" y="557.70" font-size="5.0" text-anchor="middle" font-weight="bold" stroke="#000" stroke-width="0.13" fill="#000" font-family="Liberation Serif, serif">0.2</text>
<line x1="607.28" y1="552.30" x2="607.28" y2="553.60" stroke="#222" stroke-width="0.6"/>
<text x="607.28" y="557.70" font-size="5.0" text-anchor="middle" font-weight="bold" stroke="#000" stroke-width="0.13" fill="#000" font-family="Liberation Serif, serif">0.3</text>
<line x1="622.84" y1="552.30" x2="622.84" y2="553.60" stroke="#222" stroke-width="0.6"/>
<text x="622.84" y="557.70" font-size="5.0" text-anchor="middle" font-weight="bold" stroke="#000" stroke-width="0.13" fill="#000" font-family="Liberation Serif, serif">0.4</text>
<line x1="638.40" y1="552.30" x2="638.40" y2="553.60" stroke="#222" stroke-width="0.6"/>
<text x="638.40" y="557.70" font-size="5.0" text-anchor="middle" font-weight="bold" stroke="#000" stroke-width="0.13" fill="#000" font-family="Liberation Serif, serif">0.5</text>
<text x="600.40" y="566.30" font-size="8.7" text-anchor="middle" fill="#000" font-family="Liberation Sans, sans-serif">RichFactor</text>
<text x="357.40" y="446.00" font-size="5.4" text-anchor="middle" font-weight="bold" stroke="#000" stroke-width="0.13" fill="#000" font-family="Liberation Serif, serif" transform="rotate(-90 357.40 446.00)">Pathway</text>
<text x="650.20" y="397.00" font-size="5.6" text-anchor="start" font-weight="bold" stroke="#000" stroke-width="0.13" fill="#000" font-family="Liberation Serif, serif">Gene_number</text>
<rect x="650.00" y="400.80" width="7.90" height="40.70" fill="#f2f2f2"/>
<circle cx="653.90" cy="404.80" r="0.75" fill="#000"/>
<text x="660.90" y="406.60" font-size="5.4" text-anchor="start" font-weight="bold" stroke="#000" stroke-width="0.13" fill="#000" font-family="Liberation Serif, serif">1</text>
<circle cx="653.90" cy="412.90" r="2.00" fill="#000"/>
<text x="660.90" y="414.70" font-size="5.4" text-anchor="start" font-weight="bold" stroke="#000" stroke-width="0.13" fill="#000" font-family="Liberation Serif, serif">2</text>
<circle cx="653.90" cy="420.90" r="2.50" fill="#000"/>
<text x="660.90" y="422.70" font-size="5.4" text-anchor="start" font-weight="bold" stroke="#000" stroke-width="0.13" fill="#000" font-family="Liberation Serif, serif">3</text>
<circle cx="653.90" cy="429.00" r="2.90" fill="#000"/>
<text x="660.90" y="430.80" font-size="5.4" text-anchor="start" font-weight="bold" stroke="#000" stroke-width="0.13" fill="#000" font-family="Liberation Serif, serif">4</text>
<circle cx="653.90" cy="437.30" r="3.30" fill="#000"/>
<text x="660.90" y="439.10" font-size="5.4" text-anchor="start" font-weight="bold" stroke="#000" stroke-width="0.13" fill="#000" font-family="Liberation Serif, serif">5</text>
<text x="650.20" y="455.70" font-size="5.6" text-anchor="start" font-weight="bold" stroke="#000" stroke-width="0.13" fill="#000" font-family="Liberation Serif, serif">Qvalue</text>
<rect x="650.20" y="459.40" width="7.30" height="40.30" fill="url(#qg)"/>
<text x="661.00" y="471.80" font-size="5.4" text-anchor="start" font-weight="bold" stroke="#000" stroke-width="0.13" fill="#000" font-family="Liberation Serif, serif">0.12</text>
<text x="661.00" y="483.20" font-size="5.4" text-anchor="start" font-weight="bold" stroke="#000" stroke-width="0.13" fill="#000" font-family="Liberation Serif, serif">0.10</text>
<text x="661.00" y="494.50" font-size="5.4" text-anchor="start" font-weight="bold" stroke="#000" stroke-width="0.13" fill="#000" font-family="Liberation Serif, serif">0.08</text>
<text x="233.00" y="596.20" font-size="8.8" text-anchor="middle" fill="#000" font-family="Liberation Sans, sans-serif">Control-vs-gastrodin KEGG bar plot</text>
<rect x="144.50" y="601.50" width="183.40" height="199.70" fill="#fff"/>
<line x1="203.66" y1="601.50" x2="203.66" y2="801.20" stroke="#dadada" stroke-width="0.6"/>
<line x1="276.16" y1="601.50" x2="276.16" y2="801.20" stroke="#dadada" stroke-width="0.6"/>
<line x1="152.40" y1="601.50" x2="152.40" y2="801.20" stroke="#c4c4c4" stroke-width="0.75"/>
<line x1="254.92" y1="601.50" x2="254.92" y2="801.20" stroke="#c4c4c4" stroke-width="0.75"/>
<line x1="297.39" y1="601.50" x2="297.39" y2="801.20" stroke="#c4c4c4" stroke-width="0.75"/>
<line x1="144.50" y1="604.75" x2="327.90" y2="604.75" stroke="#cfcfcf" stroke-width="0.65"/>
<line x1="144.50" y1="610.27" x2="327.90" y2="610.27" stroke="#cfcfcf" stroke-width="0.65"/>
<line x1="144.50" y1="615.80" x2="327.90" y2="615.80" stroke="#cfcfcf" stroke-width="0.65"/>
<line x1="144.50" y1="621.32" x2="327.90" y2="621.32" stroke="#cfcfcf" stroke-width="0.65"/>
<line x1="144.50" y1="626.85" x2="327.90" y2="626.85" stroke="#cfcfcf" stroke-width="0.65"/>
<line x1="144.50" y1="632.37" x2="327.90" y2="632.37" stroke="#cfcfcf" stroke-width="0.65"/>
<line x1="144.50" y1="637.90" x2="327.90" y2="637.90" stroke="#cfcfcf" stroke-width="0.65"/>
<line x1="144.50" y1="643.42" x2="327.90" y2="643.42" stroke="#cfcfcf" stroke-width="0.65"/>
<line x1="144.50" y1="648.94" x2="327.90" y2="648.94" stroke="#cfcfcf" stroke-width="0.65"/>
<line x1="144.50" y1="654.47" x2="327.90" y2="654.47" stroke="#cfcfcf" stroke-width="0.65"/>
<line x1="144.50" y1="659.99" x2="327.90" y2="659.99" stroke="#cfcfcf" stroke-width="0.65"/>
<line x1="144.50" y1="665.52" x2="327.90" y2="665.52" stroke="#cfcfcf" stroke-width="0.65"/>
<line x1="144.50" y1="671.04" x2="327.90" y2="671.04" stroke="#cfcfcf" stroke-width="0.65"/>
<line x1="144.50" y1="676.57" x2="327.90" y2="676.57" stroke="#cfcfcf" stroke-width="0.65"/>
<line x1="144.50" y1="682.09" x2="327.90" y2="682.09" stroke="#cfcfcf" stroke-width="0.65"/>
<line x1="144.50" y1="687.61" x2="327.90" y2="687.61" stroke="#cfcfcf" stroke-width="0.65"/>
<line x1="144.50" y1="693.14" x2="327.90" y2="693.14" stroke="#cfcfcf" stroke-width="0.65"/>
<line x1="144.50" y1="698.66" x2="327.90" y2="698.66" stroke="#cfcfcf" stroke-width="0.65"/>
<line x1="144.50" y1="704.19" x2="327.90" y2="704.19" stroke="#cfcfcf" stroke-width="0.65"/>
<line x1="144.50" y1="709.71" x2="327.90" y2="709.71" stroke="#cfcfcf" stroke-width="0.65"/>
<line x1="144.50" y1="715.24" x2="327.90" y2="715.24" stroke="#cfcfcf" stroke-width="0.65"/>
<line x1="144.50" y1="720.76" x2="327.90" y2="720.76" stroke="#cfcfcf" stroke-width="0.65"/>
<line x1="144.50" y1="726.28" x2="327.90" y2="726.28" stroke="#cfcfcf" stroke-width="0.65"/>
<line x1="144.50" y1="731.81" x2="327.90" y2="731.81" stroke="#cfcfcf" stroke-width="0.65"/>
<line x1="144.50" y1="737.33" x2="327.90" y2="737.33" stroke="#cfcfcf" stroke-width="0.65"/>
<line x1="144.50" y1="742.86" x2="327.90" y2="742.86" stroke="#cfcfcf" stroke-width="0.65"/>
<line x1="144.50" y1="748.38" x2="327.90" y2="748.38" stroke="#cfcfcf" stroke-width="0.65"/>
<line x1="144.50" y1="753.91" x2="327.90" y2="753.91" stroke="#cfcfcf" stroke-width="0.65"/>
<line x1="144.50" y1="759.43" x2="327.90" y2="759.43" stroke="#cfcfcf" stroke-width="0.65"/>
<line x1="144.50" y1="764.95" x2="327.90" y2="764.95" stroke="#cfcfcf" stroke-width="0.65"/>
<line x1="144.50" y1="770.48" x2="327.90" y2="770.48" stroke="#cfcfcf" stroke-width="0.65"/>
<line x1="144.50" y1="776.00" x2="327.90" y2="776.00" stroke="#cfcfcf" stroke-width="0.65"/>
<line x1="144.50" y1="781.53" x2="327.90" y2="781.53" stroke="#cfcfcf" stroke-width="0.65"/>
<line x1="144.50" y1="787.05" x2="327.90" y2="787.05" stroke="#cfcfcf" stroke-width="0.65"/>
<line x1="144.50" y1="792.58" x2="327.90" y2="792.58" stroke="#cfcfcf" stroke-width="0.65"/>
<line x1="144.50" y1="798.10" x2="327.90" y2="798.10" stroke="#cfcfcf" stroke-width="0.65"/>
<rect x="152.40" y="602.72" width="102.52" height="4.06" fill="#E41A1C"/>
<text x="256.32" y="606.80" font-size="5.2" text-anchor="start" stroke="#222" stroke-width="0.13" fill="#222" font-family="Liberation Sans, sans-serif">5</text>
<line x1="143.20" y1="604.75" x2="144.50" y2="604.75" stroke="#222" stroke-width="0.6"/>
<text x="141.90" y="606.15" font-size="4.0" text-anchor="end" font-weight="bold" stroke="#000" stroke-width="0.13" fill="#000" font-family="Liberation Sans, sans-serif">Transport and catabolism</text>
<rect x="152.40" y="608.24" width="91.70" height="4.06" fill="#E41A1C"/>
<text x="245.50" y="612.32" font-size="5.2" text-anchor="start" stroke="#222" stroke-width="0.13" fill="#222" font-family="Liberation Sans, sans-serif">4</text>
<line x1="143.20" y1="610.27" x2="144.50" y2="610.27" stroke="#222" stroke-width="0.6"/>
<text x="141.90" y="611.67" font-size="4.0" text-anchor="end" font-weight="bold" stroke="#000" stroke-width="0.13" fill="#000" font-family="Liberation Sans, sans-serif">Cellular community - eukaryotes</text>
<rect x="152.40" y="613.77" width="91.70" height="4.06" fill="#E41A1C"/>
<text x="245.50" y="617.85" font-size="5.2" text-anchor="start" stroke="#222" stroke-width="0.13" fill="#222" font-family="Liberation Sans, sans-serif">4</text>
<line x1="143.20" y1="615.80" x2="144.50" y2="615.80" stroke="#222" stroke-width="0.6"/>
<text x="141.90" y="617.20" font-size="4.0" text-anchor="end" font-weight="bold" stroke="#000" stroke-width="0.13" fill="#000" font-family="Liberation Sans, sans-serif">Cell motility</text>
<rect x="152.40" y="619.29" width="79.41" height="4.06" fill="#E41A1C"/>
<text x="233.21" y="623.37" font-size="5.2" text-anchor="start" stroke="#222" stroke-width="0.13" fill="#222" font-family="Liberation Sans, sans-serif">3</text>
<line x1="143.20" y1="621.32" x2="144.50" y2="621.32" stroke="#222" stroke-width="0.6"/>
<text x="141.90" y="622.72" font-size="4.0" text-anchor="end" font-weight="bold" stroke="#000" stroke-width="0.13" fill="#000" font-family="Liberation Sans, sans-serif">Cell growth and death</text>
<rect x="152.40" y="624.82" width="45.85" height="4.06" fill="#E41A1C"/>
<text x="199.65" y="628.90" font-size="5.2" text-anchor="start" stroke="#222" stroke-width="0.13" fill="#222" font-family="Liberation Sans, sans-serif">1</text>
<line x1="143.20" y1="626.85" x2="144.50" y2="626.85" stroke="#222" stroke-width="0.6"/>
<text x="141.90" y="628.25" font-size="4.0" text-anchor="end" font-weight="bold" stroke="#000" stroke-width="0.13" fill="#000" font-family="Liberation Sans, sans-serif">Cellular community - prokaryotes</text>
<rect x="152.40" y="630.34" width="152.07" height="4.06" fill="#377EB8"/>
<text x="305.87" y="634.42" font-size="5.2" text-anchor="start" stroke="#222" stroke-width="0.13" fill="#222" font-family="Liberation Sans, sans-serif">11</text>
<line x1="143.20" y1="632.37" x2="144.50" y2="632.37" stroke="#222" stroke-width="0.6"/>
<text x="141.90" y="633.77" font-size="4.0" text-anchor="end" font-weight="bold" stroke="#000" stroke-width="0.13" fill="#000" font-family="Liberation Sans, sans-serif">Signal transduction</text>
<rect x="152.40" y="635.87" width="45.85" height="4.06" fill="#377EB8"/>
<text x="199.65" y="639.95" font-size="5.2" text-anchor="start" stroke="#222" stroke-width="0.13" fill="#222" font-family="Liberation Sans, sans-serif">1</text>
<line x1="143.20" y1="637.90" x2="144.50" y2="637.90" stroke="#222" stroke-width="0.6"/>
<text x="141.90" y="639.30" font-size="4.0" text-anchor="end" font-weight="bold" stroke="#000" stroke-width="0.13" fill="#000" font-family="Liberation Sans, sans-serif">Signaling molecules and interaction</text>
<rect x="152.40" y="641.39" width="91.70" height="4.06" fill="#4DAF4A"/>
<text x="245.50" y="645.47" font-size="5.2" text-anchor="start" stroke="#222" stroke-width="0.13" fill="#222" font-family="Liberation Sans, sans-serif">4</text>
<line x1="143.20" y1="643.42" x2="144.50" y2="643.42" stroke="#222" stroke-width="0.6"/>
<text x="141.90" y="644.82" font-size="4.0" text-anchor="end" font-weight="bold" stroke="#000" stroke-width="0.13" fill="#000" font-family="Liberation Sans, sans-serif">Translation</text>
<rect x="152.40" y="646.91" width="79.41" height="4.06" fill="#4DAF4A"/>
<text x="233.21" y="650.99" font-size="5.2" text-anchor="start" stroke="#222" stroke-width="0.13" fill="#222" font-family="Liberation Sans, sans-serif">3</text>
<line x1="143.20" y1="648.94" x2="144.50" y2="648.94" stroke="#222" stroke-width="0.6"/>
<text x="141.90" y="650.34" font-size="4.0" text-anchor="end" font-weight="bold" stroke="#000" stroke-width="0.13" fill="#000" font-family="Liberation Sans, sans-serif">Replication and repair</text>
<rect x="152.40" y="652.44" width="64.84" height="4.06" fill="#4DAF4A"/>
<text x="218.64" y="656.52" font-size="5.2" text-anchor="start" stroke="#222" stroke-width="0.13" fill="#222" font-family="Liberation Sans, sans-serif">2</text>
<line x1="143.20" y1="654.47" x2="144.50" y2="654.47" stroke="#222" stroke-width="0.6"/>
<text x="141.90" y="655.87" font-size="4.0" text-anchor="end" font-weight="bold" stroke="#000" stroke-width="0.13" fill="#000" font-family="Liberation Sans, sans-serif">Folding, sorting and degradation</text>
<rect x="152.40" y="657.96" width="45.85" height="4.06" fill="#4DAF4A"/>
<text x="199.65" y="662.04" font-size="5.2" text-anchor="start" stroke="#222" stroke-width="0.13" fill="#222" font-family="Liberation Sans, sans-serif">1</text>
<line x1="143.20" y1="659.99" x2="144.50" y2="659.99" stroke="#222" stroke-width="0.6"/>
<text x="141.90" y="661.39" font-size="4.0" text-anchor="end" font-weight="bold" stroke="#000" stroke-width="0.13" fill="#000" font-family="Liberation Sans, sans-serif">Transcription</text>
<rect x="152.40" y="663.49" width="112.31" height="4.06" fill="#984EA3"/>
<text x="266.11" y="667.57" font-size="5.2" text-anchor="start" stroke="#222" stroke-width="0.13" fill="#222" font-family="Liberation Sans, sans-serif">6</text>
<line x1="143.20" y1="665.52" x2="144.50" y2="665.52" stroke="#222" stroke-width="0.6"/>
<text x="141.90" y="666.92" font-size="4.0" text-anchor="end" font-weight="bold" stroke="#000" stroke-width="0.13" fill="#000" font-family="Liberation Sans, sans-serif">Infectious disease: bacterial</text>
<rect x="152.40" y="669.01" width="102.52" height="4.06" fill="#984EA3"/>
<text x="256.32" y="673.09" font-size="5.2" text-anchor="start" stroke="#222" stroke-width="0.13" fill="#222" font-family="Liberation Sans, sans-serif">5</text>
<line x1="143.20" y1="671.04" x2="144.50" y2="671.04" stroke="#222" stroke-width="0.6"/>
<text x="141.90" y="672.44" font-size="4.0" text-anchor="end" font-weight="bold" stroke="#000" stroke-width="0.13" fill="#000" font-family="Liberation Sans, sans-serif">Cancer: overview</text>
<rect x="152.40" y="674.54" width="102.52" height="4.06" fill="#984EA3"/>
<text x="256.32" y="678.62" font-size="5.2" text-anchor="start" stroke="#222" stroke-width="0.13" fill="#222" font-family="Liberation Sans, sans-serif">5</text>
<line x1="143.20" y1="676.57" x2="144.50" y2="676.57" stroke="#222" stroke-width="0.6"/>
<text x="141.90" y="677.97" font-size="4.0" text-anchor="end" font-weight="bold" stroke="#000" stroke-width="0.13" fill="#000" font-family="Liberation Sans, sans-serif">Infectious disease: viral</text>
<rect x="152.40" y="680.06" width="91.70" height="4.06" fill="#984EA3"/>
<text x="245.50" y="684.14" font-size="5.2" text-anchor="start" stroke="#222" stroke-width="0.13" fill="#222" font-family="Liberation Sans, sans-serif">4</text>
<line x1="143.20" y1="682.09" x2="144.50" y2="682.09" stroke="#222" stroke-width="0.6"/>
<text x="141.90" y="683.49" font-size="4.0" text-anchor="end" font-weight="bold" stroke="#000" stroke-width="0.13" fill="#000" font-family="Liberation Sans, sans-serif">Cancer: specific types</text>
<rect x="152.40" y="685.58" width="79.41" height="4.06" fill="#984EA3"/>
<text x="233.21" y="689.66" font-size="5.2" text-anchor="start" stroke="#222" stroke-width="0.13" fill="#222" font-family="Liberation Sans, sans-serif">3</text>
<line x1="143.20" y1="687.61" x2="144.50" y2="687.61" stroke="#222" stroke-width="0.6"/>
<text x="141.90" y="689.01" font-size="4.0" text-anchor="end" font-weight="bold" stroke="#000" stroke-width="0.13" fill="#000" font-family="Liberation Sans, sans-serif">Infectious disease: parasitic</text>
<rect x="152.40" y="691.11" width="79.41" height="4.06" fill="#984EA3"/>
<text x="233.21" y="695.19" font-size="5.2" text-anchor="start" stroke="#222" stroke-width="0.13" fill="#222" font-family="Liberation Sans, sans-serif">3</text>
<line x1="143.20" y1="693.14" x2="144.50" y2="693.14" stroke="#222" stroke-width="0.6"/>
<text x="141.90" y="694.54" font-size="4.0" text-anchor="end" font-weight="bold" stroke="#000" stroke-width="0.13" fill="#000" font-family="Liberation Sans, sans-serif">Neurodegenerative disease</text>
<rect x="152.40" y="696.63" width="79.41" height="4.06" fill="#984EA3"/>
<text x="233.21" y="700.71" font-size="5.2" text-anchor="start" stroke="#222" stroke-width="0.13" fill="#222" font-family="Liberation Sans, sans-serif">3</text>
<line x1="143.20" y1="698.66" x2="144.50" y2="698.66" stroke="#222" stroke-width="0.6"/>
<text x="141.90" y="700.06" font-size="4.0" text-anchor="end" font-weight="bold" stroke="#000" stroke-width="0.13" fill="#000" font-family="Liberation Sans, sans-serif">Endocrine and metabolic disease</text>
<rect x="152.40" y="702.16" width="64.84" height="4.06" fill="#984EA3"/>
<text x="218.64" y="706.24" font-size="5.2" text-anchor="start" stroke="#222" stroke-width="0.13" fill="#222" font-family="Liberation Sans, sans-serif">2</text>
<line x1="143.20" y1="704.19" x2="144.50" y2="704.19" stroke="#222" stroke-width="0.6"/>
<text x="141.90" y="705.59" font-size="4.0" text-anchor="end" font-weight="bold" stroke="#000" stroke-width="0.13" fill="#000" font-family="Liberation Sans, sans-serif">Drug resistance: antineoplastic</text>
<rect x="152.40" y="707.68" width="45.85" height="4.06" fill="#984EA3"/>
<text x="199.65" y="711.76" font-size="5.2" text-anchor="start" stroke="#222" stroke-width="0.13" fill="#222" font-family="Liberation Sans, sans-serif">1</text>
<line x1="143.20" y1="709.71" x2="144.50" y2="709.71" stroke="#222" stroke-width="0.6"/>
<text x="141.90" y="711.11" font-size="4.0" text-anchor="end" font-weight="bold" stroke="#000" stroke-width="0.13" fill="#000" font-family="Liberation Sans, sans-serif">Substance dependence</text>
<rect x="152.40" y="713.21" width="45.85" height="4.06" fill="#984EA3"/>
<text x="199.65" y="717.29" font-size="5.2" text-anchor="start" stroke="#222" stroke-width="0.13" fill="#222" font-family="Liberation Sans, sans-serif">1</text>
<line x1="143.20" y1="715.24" x2="144.50" y2="715.24" stroke="#222" stroke-width="0.6"/>
<text x="141.90" y="716.64" font-size="4.0" text-anchor="end" font-weight="bold" stroke="#000" stroke-width="0.13" fill="#000" font-family="Liberation Sans, sans-serif">Cardiovascular disease</text>
<rect x="152.40" y="718.73" width="91.70" height="4.06" fill="#FF7F00"/>
<text x="245.50" y="722.81" font-size="5.2" text-anchor="start" stroke="#222" stroke-width="0.13" fill="#222" font-family="Liberation Sans, sans-serif">4</text>
<line x1="143.20" y1="720.76" x2="144.50" y2="720.76" stroke="#222" stroke-width="0.6"/>
<text x="141.90" y="722.16" font-size="4.0" text-anchor="end" font-weight="bold" stroke="#000" stroke-width="0.13" fill="#000" font-family="Liberation Sans, sans-serif">Lipid metabolism</text>
<rect x="152.40" y="724.25" width="64.84" height="4.06" fill="#FF7F00"/>
<text x="218.64" y="728.33" font-size="5.2" text-anchor="start" stroke="#222" stroke-width="0.13" fill="#222" font-family="Liberation Sans, sans-serif">2</text>
<line x1="143.20" y1="726.28" x2="144.50" y2="726.28" stroke="#222" stroke-width="0.6"/>
<text x="141.90" y="727.68" font-size="4.0" text-anchor="end" font-weight="bold" stroke="#000" stroke-width="0.13" fill="#000" font-family="Liberation Sans, sans-serif">Energy metabolism</text>
<rect x="152.40" y="729.78" width="45.85" height="4.06" fill="#FF7F00"/>
<text x="199.65" y="733.86" font-size="5.2" text-anchor="start" stroke="#222" stroke-width="0.13" fill="#222" font-family="Liberation Sans, sans-serif">1</text>
<line x1="143.20" y1="731.81" x2="144.50" y2="731.81" stroke="#222" stroke-width="0.6"/>
<text x="141.90" y="733.21" font-size="4.0" text-anchor="end" font-weight="bold" stroke="#000" stroke-width="0.13" fill="#000" font-family="Liberation Sans, sans-serif">Nucleotide metabolism</text>
<rect x="152.40" y="735.30" width="45.85" height="4.06" fill="#FF7F00"/>
<text x="199.65" y="739.38" font-size="5.2" text-anchor="start" stroke="#222" stroke-width="0.13" fill="#222" font-family="Liberation Sans, sans-serif">1</text>
<line x1="143.20" y1="737.33" x2="144.50" y2="737.33" stroke="#222" stroke-width="0.6"/>
<text x="141.90" y="738.73" font-size="4.0" text-anchor="end" font-weight="bold" stroke="#000" stroke-width="0.13" fill="#000" font-family="Liberation Sans, sans-serif">Amino acid metabolism</text>
<rect x="152.40" y="740.83" width="45.85" height="4.06" fill="#FF7F00"/>
<text x="199.65" y="744.91" font-size="5.2" text-anchor="start" stroke="#222" stroke-width="0.13" fill="#222" font-family="Liberation Sans, sans-serif">1</text>
<line x1="143.20" y1="742.86" x2="144.50" y2="742.86" stroke="#222" stroke-width="0.6"/>
<text x="141.90" y="744.26" font-size="4.0" text-anchor="end" font-weight="bold" stroke="#000" stroke-width="0.13" fill="#000" font-family="Liberation Sans, sans-serif">Glycan biosynthesis and metabolism</text>
<rect x="152.40" y="746.35" width="129.68" height="4.06" fill="#FFFF33"/>
<text x="283.48" y="750.43" font-size="5.2" text-anchor="start" stroke="#222" stroke-width="0.13" fill="#222" font-family="Liberation Sans, sans-serif">8</text>
<line x1="143.20" y1="748.38" x2="144.50" y2="748.38" stroke="#222" stroke-width="0.6"/>
<text x="141.90" y="749.78" font-size="4.0" text-anchor="end" font-weight="bold" stroke="#000" stroke-width="0.13" fill="#000" font-family="Liberation Sans, sans-serif">Immune system</text>
<rect x="152.40" y="751.88" width="102.52" height="4.06" fill="#FFFF33"/>
<text x="256.32" y="755.96" font-size="5.2" text-anchor="start" stroke="#222" stroke-width="0.13" fill="#222" font-family="Liberation Sans, sans-serif">5</text>
<line x1="143.20" y1="753.91" x2="144.50" y2="753.91" stroke="#222" stroke-width="0.6"/>
<text x="141.90" y="755.31" font-size="4.0" text-anchor="end" font-weight="bold" stroke="#000" stroke-width="0.13" fill="#000" font-family="Liberation Sans, sans-serif">Endocrine system</text>
<rect x="152.40" y="757.40" width="102.52" height="4.06" fill="#FFFF33"/>
<text x="256.32" y="761.48" font-size="5.2" text-anchor="start" stroke="#222" stroke-width="0.13" fill="#222" font-family="Liberation Sans, sans-serif">5</text>
<line x1="143.20" y1="759.43" x2="144.50" y2="759.43" stroke="#222" stroke-width="0.6"/>
<text x="141.90" y="760.83" font-size="4.0" text-anchor="end" font-weight="bold" stroke="#000" stroke-width="0.13" fill="#000" font-family="Liberation Sans, sans-serif">Development and regeneration</text>
<rect x="152.40" y="762.92" width="102.52" height="4.06" fill="#FFFF33"/>
<text x="256.32" y="767.00" font-size="5.2" text-anchor="start" stroke="#222" stroke-width="0.13" fill="#222" font-family="Liberation Sans, sans-serif">5</text>
<line x1="143.20" y1="764.95" x2="144.50" y2="764.95" stroke="#222" stroke-width="0.6"/>
<text x="141.90" y="766.35" font-size="4.0" text-anchor="end" font-weight="bold" stroke="#000" stroke-width="0.13" fill="#000" font-family="Liberation Sans, sans-serif">Environmental adaptation</text>
<rect x="152.40" y="768.45" width="79.41" height="4.06" fill="#FFFF33"/>
<text x="233.21" y="772.53" font-size="5.2" text-anchor="start" stroke="#222" stroke-width="0.13" fill="#222" font-family="Liberation Sans, sans-serif">3</text>
<line x1="143.20" y1="770.48" x2="144.50" y2="770.48" stroke="#222" stroke-width="0.6"/>
<text x="141.90" y="771.88" font-size="4.0" text-anchor="end" font-weight="bold" stroke="#000" stroke-width="0.13" fill="#000" font-family="Liberation Sans, sans-serif">Nervous system</text>
<rect x="152.40" y="773.97" width="64.84" height="4.06" fill="#FFFF33"/>
<text x="218.64" y="778.05" font-size="5.2" text-anchor="start" stroke="#222" stroke-width="0.13" fill="#222" font-family="Liberation Sans, sans-serif">2</text>
<line x1="143.20" y1="776.00" x2="144.50" y2="776.00" stroke="#222" stroke-width="0.6"/>
<text x="141.90" y="777.40" font-size="4.0" text-anchor="end" font-weight="bold" stroke="#000" stroke-width="0.13" fill="#000" font-family="Liberation Sans, sans-serif">Circulatory system</text>
<rect x="152.40" y="779.50" width="64.84" height="4.06" fill="#FFFF33"/>
<text x="218.64" y="783.58" font-size="5.2" text-anchor="start" stroke="#222" stroke-width="0.13" fill="#222" font-family="Liberation Sans, sans-serif">2</text>
<line x1="143.20" y1="781.53" x2="144.50" y2="781.53" stroke="#222" stroke-width="0.6"/>
<text x="141.90" y="782.93" font-size="4.0" text-anchor="end" font-weight="bold" stroke="#000" stroke-width="0.13" fill="#000" font-family="Liberation Sans, sans-serif">Aging</text>
<rect x="152.40" y="785.02" width="45.85" height="4.06" fill="#FFFF33"/>
<text x="199.65" y="789.10" font-size="5.2" text-anchor="start" stroke="#222" stroke-width="0.13" fill="#222" font-family="Liberation Sans, sans-serif">1</text>
<line x1="143.20" y1="787.05" x2="144.50" y2="787.05" stroke="#222" stroke-width="0.6"/>
<text x="141.90" y="788.45" font-size="4.0" text-anchor="end" font-weight="bold" stroke="#000" stroke-width="0.13" fill="#000" font-family="Liberation Sans, sans-serif">Digestive system</text>
<rect x="152.40" y="790.55" width="45.85" height="4.06" fill="#FFFF33"/>
<text x="199.65" y="794.63" font-size="5.2" text-anchor="start" stroke="#222" stroke-width="0.13" fill="#222" font-family="Liberation Sans, sans-serif">1</text>
<line x1="143.20" y1="792.58" x2="144.50" y2="792.58" stroke="#222" stroke-width="0.6"/>
<text x="141.90" y="793.98" font-size="4.0" text-anchor="end" font-weight="bold" stroke="#000" stroke-width="0.13" fill="#000" font-family="Liberation Sans, sans-serif">Excretory system</text>
<rect x="152.40" y="796.07" width="45.85" height="4.06" fill="#FFFF33"/>
<text x="199.65" y="800.15" font-size="5.2" text-anchor="start" stroke="#222" stroke-width="0.13" fill="#222" font-family="Liberation Sans, sans-serif">1</text>
<line x1="143.20" y1="798.10" x2="144.50" y2="798.10" stroke="#222" stroke-width="0.6"/>
<text x="141.90" y="799.50" font-size="4.0" text-anchor="end" font-weight="bold" stroke="#000" stroke-width="0.13" fill="#000" font-family="Liberation Sans, sans-serif">Sensory system</text>
<rect x="144.50" y="601.50" width="183.40" height="199.70" fill="none" stroke="#707070" stroke-width="0.8"/>
<line x1="152.40" y1="801.20" x2="152.40" y2="802.50" stroke="#222" stroke-width="0.6"/>
<text x="152.40" y="806.80" font-size="4.0" text-anchor="middle" stroke="#222" stroke-width="0.13" fill="#222" font-family="Liberation Sans, sans-serif">0</text>
<line x1="254.92" y1="801.20" x2="254.92" y2="802.50" stroke="#222" stroke-width="0.6"/>
<text x="254.92" y="806.80" font-size="4.0" text-anchor="middle" stroke="#222" stroke-width="0.13" fill="#222" font-family="Liberation Sans, sans-serif">5</text>
<line x1="297.39" y1="801.20" x2="297.39" y2="802.50" stroke="#222" stroke-width="0.6"/>
<text x="297.39" y="806.80" font-size="4.0" text-anchor="middle" stroke="#222" stroke-width="0.13" fill="#222" font-family="Liberation Sans, sans-serif">10</text>
<text x="229.90" y="815.40" font-size="8.8" text-anchor="middle" fill="#000" font-family="Liberation Sans, sans-serif">Number of genes</text>
<rect x="3.90" y="794.70" width="6.30" height="6.30" fill="#E41A1C"/>
<text x="8.90" y="792.40" font-size="4.7" text-anchor="start" font-weight="bold" stroke="#000" stroke-width="0.13" fill="#000" font-family="Liberation Sans, sans-serif" transform="rotate(-90 8.90 792.40)">Cellular Processes</text>
<rect x="10.73" y="794.70" width="6.30" height="6.30" fill="#377EB8"/>
<text x="15.73" y="792.40" font-size="4.7" text-anchor="start" font-weight="bold" stroke="#000" stroke-width="0.13" fill="#000" font-family="Liberation Sans, sans-serif" transform="rotate(-90 15.73 792.40)">Environmental Information Processing</text>
<rect x="17.56" y="794.70" width="6.30" height="6.30" fill="#4DAF4A"/>
<text x="22.56" y="792.40" font-size="4.7" text-anchor="start" font-weight="bold" stroke="#000" stroke-width="0.13" fill="#000" font-family="Liberation Sans, sans-serif" transform="rotate(-90 22.56 792.40)">Genetic Information Processing</text>
<rect x="24.39" y="794.70" width="6.30" height="6.30" fill="#984EA3"/>
<text x="29.39" y="792.40" font-size="4.7" text-anchor="start" font-weight="bold" stroke="#000" stroke-width="0.13" fill="#000" font-family="Liberation Sans, sans-serif" transform="rotate(-90 29.39 792.40)">Human Diseases</text>
<rect x="31.22" y="794.70" width="6.30" height="6.30" fill="#FF7F00"/>
<text x="36.22" y="792.40" font-size="4.7" text-anchor="start" font-weight="bold" stroke="#000" stroke-width="0.13" fill="#000" font-family="Liberation Sans, sans-serif" transform="rotate(-90 36.22 792.40)">Metabolism</text>
<rect x="38.05" y="794.70" width="6.30" height="6.30" fill="#FFFF33"/>
<text x="43.05" y="792.40" font-size="4.7" text-anchor="start" font-weight="bold" stroke="#000" stroke-width="0.13" fill="#000" font-family="Liberation Sans, sans-serif" transform="rotate(-90 43.05 792.40)">Organismal Systems</text>
<text x="558.70" y="596.30" font-size="8.77" text-anchor="middle" fill="#000" font-family="Liberation Sans, sans-serif">Control-vs-gastrodin KEGG enrichment</text>
<rect x="477.40" y="602.20" width="164.40" height="199.00" fill="#fff"/>
<line x1="492.00" y1="602.20" x2="492.00" y2="801.20" stroke="#d4d4d4" stroke-width="0.6"/>
<line x1="537.00" y1="602.20" x2="537.00" y2="801.20" stroke="#d4d4d4" stroke-width="0.6"/>
<line x1="582.00" y1="602.20" x2="582.00" y2="801.20" stroke="#d4d4d4" stroke-width="0.6"/>
<line x1="627.00" y1="602.20" x2="627.00" y2="801.20" stroke="#d4d4d4" stroke-width="0.6"/>
<line x1="514.50" y1="602.20" x2="514.50" y2="801.20" stroke="#c4c4c4" stroke-width="0.75"/>
<line x1="559.50" y1="602.20" x2="559.50" y2="801.20" stroke="#c4c4c4" stroke-width="0.75"/>
<line x1="604.50" y1="602.20" x2="604.50" y2="801.20" stroke="#c4c4c4" stroke-width="0.75"/>
<line x1="477.40" y1="608.10" x2="641.80" y2="608.10" stroke="#c2c2c2" stroke-width="0.75"/>
<line x1="477.40" y1="617.96" x2="641.80" y2="617.96" stroke="#c2c2c2" stroke-width="0.75"/>
<line x1="477.40" y1="627.82" x2="641.80" y2="627.82" stroke="#c2c2c2" stroke-width="0.75"/>
<line x1="477.40" y1="637.67" x2="641.80" y2="637.67" stroke="#c2c2c2" stroke-width="0.75"/>
<line x1="477.40" y1="647.53" x2="641.80" y2="647.53" stroke="#c2c2c2" stroke-width="0.75"/>
<line x1="477.40" y1="657.39" x2="641.80" y2="657.39" stroke="#c2c2c2" stroke-width="0.75"/>
<line x1="477.40" y1="667.25" x2="641.80" y2="667.25" stroke="#c2c2c2" stroke-width="0.75"/>
<line x1="477.40" y1="677.11" x2="641.80" y2="677.11" stroke="#c2c2c2" stroke-width="0.75"/>
<line x1="477.40" y1="686.96" x2="641.80" y2="686.96" stroke="#c2c2c2" stroke-width="0.75"/>
<line x1="477.40" y1="696.82" x2="641.80" y2="696.82" stroke="#c2c2c2" stroke-width="0.75"/>
<line x1="477.40" y1="706.68" x2="641.80" y2="706.68" stroke="#c2c2c2" stroke-width="0.75"/>
<line x1="477.40" y1="716.54" x2="641.80" y2="716.54" stroke="#c2c2c2" stroke-width="0.75"/>
<line x1="477.40" y1="726.39" x2="641.80" y2="726.39" stroke="#c2c2c2" stroke-width="0.75"/>
<line x1="477.40" y1="736.25" x2="641.80" y2="736.25" stroke="#c2c2c2" stroke-width="0.75"/>
<line x1="477.40" y1="746.11" x2="641.80" y2="746.11" stroke="#c2c2c2" stroke-width="0.75"/>
<line x1="477.40" y1="755.97" x2="641.80" y2="755.97" stroke="#c2c2c2" stroke-width="0.75"/>
<line x1="477.40" y1="765.83" x2="641.80" y2="765.83" stroke="#c2c2c2" stroke-width="0.75"/>
<line x1="477.40" y1="775.68" x2="641.80" y2="775.68" stroke="#c2c2c2" stroke-width="0.75"/>
<line x1="477.40" y1="785.54" x2="641.80" y2="785.54" stroke="#c2c2c2" stroke-width="0.75"/>
<line x1="477.40" y1="795.40" x2="641.80" y2="795.40" stroke="#c2c2c2" stroke-width="0.75"/>
<circle cx="607.48" cy="608.10" r="0.90" fill="#33ee88"/>
<line x1="476.10" y1="608.10" x2="477.40" y2="608.10" stroke="#222" stroke-width="0.6"/>
<text x="474.90" y="609.55" font-size="4.46" text-anchor="end" font-weight="bold" stroke="#000" stroke-width="0.13" fill="#000" font-family="Liberation Serif, serif">Apoptosis - multiple species</text>
<circle cx="613.44" cy="617.96" r="0.90" fill="#44ee77"/>
<line x1="476.10" y1="617.96" x2="477.40" y2="617.96" stroke="#222" stroke-width="0.6"/>
<text x="474.90" y="619.41" font-size="4.46" text-anchor="end" font-weight="bold" stroke="#000" stroke-width="0.13" fill="#000" font-family="Liberation Serif, serif">Toll and Imd signaling pathway</text>
<circle cx="634.16" cy="627.82" r="0.85" fill="#88dd66"/>
<line x1="476.10" y1="627.82" x2="477.40" y2="627.82" stroke="#222" stroke-width="0.6"/>
<text x="474.90" y="629.27" font-size="4.46" text-anchor="end" font-weight="bold" stroke="#000" stroke-width="0.13" fill="#000" font-family="Liberation Serif, serif">Ether lipid metabolism</text>
<circle cx="523.36" cy="637.67" r="1.80" fill="#99bb55"/>
<line x1="476.10" y1="637.67" x2="477.40" y2="637.67" stroke="#222" stroke-width="0.6"/>
<text x="474.90" y="639.12" font-size="4.46" text-anchor="end" font-weight="bold" stroke="#000" stroke-width="0.13" fill="#000" font-family="Liberation Serif, serif">Glutamatergic synapse</text>
<circle cx="529.95" cy="647.53" r="1.80" fill="#99bb55"/>
<line x1="476.10" y1="647.53" x2="477.40" y2="647.53" stroke="#222" stroke-width="0.6"/>
<text x="474.90" y="648.98" font-size="4.46" text-anchor="end" font-weight="bold" stroke="#000" stroke-width="0.13" fill="#000" font-family="Liberation Serif, serif">Toxoplasmosis</text>
<circle cx="494.80" cy="657.39" r="2.10" fill="#aabb55"/>
<line x1="476.10" y1="657.39" x2="477.40" y2="657.39" stroke="#222" stroke-width="0.6"/>
<text x="474.90" y="658.84" font-size="4.46" text-anchor="end" font-weight="bold" stroke="#000" stroke-width="0.13" fill="#000" font-family="Liberation Serif, serif">Thermogenesis</text>
<circle cx="525.87" cy="667.25" r="1.80" fill="#aabb55"/>
<line x1="476.10" y1="667.25" x2="477.40" y2="667.25" stroke="#222" stroke-width="0.6"/>
<text x="474.90" y="668.70" font-size="4.46" text-anchor="end" font-weight="bold" stroke="#000" stroke-width="0.13" fill="#000" font-family="Liberation Serif, serif">Parathyroid hormone synthesis, secretion and action</text>
<circle cx="526.81" cy="677.11" r="1.80" fill="#aabb55"/>
<line x1="476.10" y1="677.11" x2="477.40" y2="677.11" stroke="#222" stroke-width="0.6"/>
<text x="474.90" y="678.56" font-size="4.46" text-anchor="end" font-weight="bold" stroke="#000" stroke-width="0.13" fill="#000" font-family="Liberation Serif, serif">Dopaminergic synapse</text>
<circle cx="532.15" cy="686.96" r="1.80" fill="#99bb55"/>
<line x1="476.10" y1="686.96" x2="477.40" y2="686.96" stroke="#222" stroke-width="0.6"/>
<text x="474.90" y="688.41" font-size="4.46" text-anchor="end" font-weight="bold" stroke="#000" stroke-width="0.13" fill="#000" font-family="Liberation Serif, serif">Circadian entrainment</text>
<circle cx="552.23" cy="696.82" r="1.80" fill="#cc8833"/>
<line x1="476.10" y1="696.82" x2="477.40" y2="696.82" stroke="#222" stroke-width="0.6"/>
<text x="474.90" y="698.27" font-size="4.46" text-anchor="end" font-weight="bold" stroke="#000" stroke-width="0.13" fill="#000" font-family="Liberation Serif, serif">Morphine addiction</text>
<circle cx="504.53" cy="706.68" r="2.20" fill="#cc8833"/>
<line x1="476.10" y1="706.68" x2="477.40" y2="706.68" stroke="#222" stroke-width="0.6"/>
<text x="474.90" y="708.13" font-size="4.46" text-anchor="end" font-weight="bold" stroke="#000" stroke-width="0.13" fill="#000" font-family="Liberation Serif, serif">Chemokine signaling pathway</text>
<circle cx="571.69" cy="716.54" r="1.80" fill="#dd6633"/>
<line x1="476.10" y1="716.54" x2="477.40" y2="716.54" stroke="#222" stroke-width="0.6"/>
<text x="474.90" y="717.99" font-size="4.46" text-anchor="end" font-weight="bold" stroke="#000" stroke-width="0.13" fill="#000" font-family="Liberation Serif, serif">Glycerophospholipid metabolism</text>
<circle cx="581.42" cy="726.39" r="1.80" fill="#dd6633"/>
<line x1="476.10" y1="726.39" x2="477.40" y2="726.39" stroke="#222" stroke-width="0.6"/>
<text x="474.90" y="727.84" font-size="4.46" text-anchor="end" font-weight="bold" stroke="#000" stroke-width="0.13" fill="#000" font-family="Liberation Serif, serif">Fanconi anemia pathway</text>
<circle cx="517.39" cy="736.25" r="2.20" fill="#dd6633"/>
<line x1="476.10" y1="736.25" x2="477.40" y2="736.25" stroke="#222" stroke-width="0.6"/>
<text x="474.90" y="737.70" font-size="4.46" text-anchor="end" font-weight="bold" stroke="#000" stroke-width="0.13" fill="#000" font-family="Liberation Serif, serif">Axon guidance</text>
<circle cx="593.35" cy="746.11" r="1.80" fill="#dd6633"/>
<line x1="476.10" y1="746.11" x2="477.40" y2="746.11" stroke="#222" stroke-width="0.6"/>
<text x="474.90" y="747.56" font-size="4.46" text-anchor="end" font-weight="bold" stroke="#000" stroke-width="0.13" fill="#000" font-family="Liberation Serif, serif">Platinum drug resistance</text>
<circle cx="533.09" cy="755.97" r="2.30" fill="#dd5533"/>
<line x1="476.10" y1="755.97" x2="477.40" y2="755.97" stroke="#222" stroke-width="0.6"/>
<text x="474.90" y="757.42" font-size="4.46" text-anchor="end" font-weight="bold" stroke="#000" stroke-width="0.13" fill="#000" font-family="Liberation Serif, serif">Apelin signaling pathway</text>
<circle cx="516.14" cy="765.83" r="2.60" fill="#ee2222"/>
<line x1="476.10" y1="765.83" x2="477.40" y2="765.83" stroke="#222" stroke-width="0.6"/>
<text x="474.90" y="767.28" font-size="4.46" text-anchor="end" font-weight="bold" stroke="#000" stroke-width="0.13" fill="#000" font-family="Liberation Serif, serif">Regulation of actin cytoskeleton</text>
<circle cx="484.75" cy="775.68" r="3.20" fill="#ee2222"/>
<line x1="476.10" y1="775.68" x2="477.40" y2="775.68" stroke="#222" stroke-width="0.6"/>
<text x="474.90" y="777.13" font-size="4.46" text-anchor="end" font-weight="bold" stroke="#000" stroke-width="0.13" fill="#000" font-family="Liberation Serif, serif">Pathways in cancer</text>
<circle cx="513.63" cy="785.54" r="2.60" fill="#ee2222"/>
<line x1="476.10" y1="785.54" x2="477.40" y2="785.54" stroke="#222" stroke-width="0.6"/>
<text x="474.90" y="786.99" font-size="4.46" text-anchor="end" font-weight="bold" stroke="#000" stroke-width="0.13" fill="#000" font-family="Liberation Serif, serif">Endocytosis</text>
<circle cx="536.54" cy="795.40" r="2.60" fill="#ee2222"/>
<line x1="476.10" y1="795.40" x2="477.40" y2="795.40" stroke="#222" stroke-width="0.6"/>
<text x="474.90" y="796.85" font-size="4.46" text-anchor="end" font-weight="bold" stroke="#000" stroke-width="0.13" fill="#000" font-family="Liberation Serif, serif">Ubiquitin mediated proteolysis</text>
<rect x="477.40" y="602.20" width="164.40" height="199.00" fill="none" stroke="#707070" stroke-width="0.9"/>
<line x1="514.50" y1="801.20" x2="514.50" y2="802.50" stroke="#222" stroke-width="0.6"/>
<text x="514.50" y="806.50" font-size="4.4" text-anchor="middle" font-weight="bold" stroke="#000" stroke-width="0.13" fill="#000" font-family="Liberation Serif, serif">0.03</text>
<line x1="559.50" y1="801.20" x2="559.50" y2="802.50" stroke="#222" stroke-width="0.6"/>
<text x="559.50" y="806.50" font-size="4.4" text-anchor="middle" font-weight="bold" stroke="#000" stroke-width="0.13" fill="#000" font-family="Liberation Serif, serif">0.05</text>
<line x1="604.50" y1="801.20" x2="604.50" y2="802.50" stroke="#222" stroke-width="0.6"/>
<text x="604.50" y="806.50" font-size="4.4" text-anchor="middle" font-weight="bold" stroke="#000" stroke-width="0.13" fill="#000" font-family="Liberation Serif, serif">0.07</text>
<text x="559.10" y="815.00" font-size="8.75" text-anchor="middle" fill="#000" font-family="Liberation Sans, sans-serif">RichFactor</text>
<text x="373.00" y="702.70" font-size="5.2" text-anchor="middle" font-weight="bold" stroke="#000" stroke-width="0.13" fill="#000" font-family="Liberation Serif, serif" transform="rotate(-90 373.00 702.70)">Pathway</text>
<text x="648.90" y="651.50" font-size="5.4" text-anchor="start" font-weight="bold" stroke="#000" stroke-width="0.13" fill="#000" font-family="Liberation Serif, serif">Qvalue</text>
<rect x="648.9" y="654.7" width="7.9" height="38" fill="url(#qg)"/>
<text x="659.30" y="660.20" font-size="5.5" text-anchor="start" font-weight="bold" stroke="#000" stroke-width="0.13" fill="#000" font-family="Liberation Serif, serif">0.016</text>
<text x="659.30" y="670.30" font-size="5.5" text-anchor="start" font-weight="bold" stroke="#000" stroke-width="0.13" fill="#000" font-family="Liberation Serif, serif">0.012</text>
<text x="659.30" y="680.30" font-size="5.5" text-anchor="start" font-weight="bold" stroke="#000" stroke-width="0.13" fill="#000" font-family="Liberation Serif, serif">0.008</text>
<text x="659.30" y="690.40" font-size="5.5" text-anchor="start" font-weight="bold" stroke="#000" stroke-width="0.13" fill="#000" font-family="Liberation Serif, serif">0.004</text>
<text x="648.90" y="706.80" font-size="5.4" text-anchor="start" font-weight="bold" stroke="#000" stroke-width="0.13" fill="#000" font-family="Liberation Serif, serif">Gene_number</text>
<rect x="649.00" y="710.40" width="7.80" height="45.10" fill="#f2f2f2"/>
<circle cx="652.70" cy="713.70" r="0.55" fill="#000"/>
<text x="659.30" y="715.50" font-size="5.5" text-anchor="start" font-weight="bold" stroke="#000" stroke-width="0.13" fill="#000" font-family="Liberation Serif, serif">2</text>
<circle cx="652.70" cy="721.50" r="1.70" fill="#000"/>
<text x="659.30" y="723.30" font-size="5.5" text-anchor="start" font-weight="bold" stroke="#000" stroke-width="0.13" fill="#000" font-family="Liberation Serif, serif">3</text>
<circle cx="652.70" cy="729.40" r="2.30" fill="#000"/>
<text x="659.30" y="731.20" font-size="5.5" text-anchor="start" font-weight="bold" stroke="#000" stroke-width="0.13" fill="#000" font-family="Liberation Serif, serif">4</text>
<circle cx="652.70" cy="736.90" r="2.70" fill="#000"/>
<text x="659.30" y="738.70" font-size="5.5" text-anchor="start" font-weight="bold" stroke="#000" stroke-width="0.13" fill="#000" font-family="Liberation Serif, serif">5</text>
<circle cx="652.70" cy="744.80" r="3.05" fill="#000"/>
<text x="659.30" y="746.60" font-size="5.5" text-anchor="start" font-weight="bold" stroke="#000" stroke-width="0.13" fill="#000" font-family="Liberation Serif, serif">6</text>
<circle cx="652.70" cy="752.30" r="3.35" fill="#000"/>
<text x="659.30" y="754.10" font-size="5.5" text-anchor="start" font-weight="bold" stroke="#000" stroke-width="0.13" fill="#000" font-family="Liberation Serif, serif">7</text>
</svg></body></html>
